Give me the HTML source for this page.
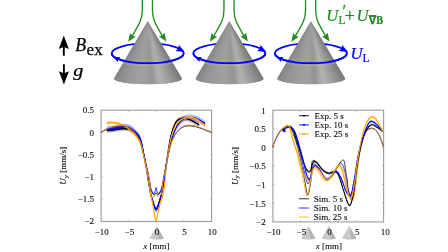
<!DOCTYPE html>
<html><head><meta charset="utf-8"><title>Figure</title>
<style>
html,body{margin:0;padding:0;background:#fff;}
body{width:448px;height:252px;overflow:hidden;}
svg{display:block;font-family:"Liberation Serif","Times New Roman",serif;}
.t{font-size:9px;fill:#0a0a0a;stroke:#0a0a0a;stroke-width:0.1px;}
.i{font-style:italic;}
</style></head><body>
<svg width="448" height="252" viewBox="0 0 448 252">
<defs>
<linearGradient id="cg" x1="0" y1="0" x2="1" y2="0">
<stop offset="0" stop-color="#808080"/>
<stop offset="0.12" stop-color="#8e8e8e"/>
<stop offset="0.45" stop-color="#9c9c9c"/>
<stop offset="0.68" stop-color="#b4b4b4"/>
<stop offset="0.8" stop-color="#a0a0a0"/>
<stop offset="1" stop-color="#7e7e7e"/>
</linearGradient>
<clipPath id="cc"><path d="M-0.3,21.2 L-34,78.6 A34,5.4 0 0 0 34,78.6 Z"/></clipPath>
<filter id="bl" x="-10%" y="-10%" width="120%" height="120%"><feGaussianBlur stdDeviation="1"/></filter>
<g id="cone">
<path d="M-34.3,78.6 A34.3,5.9 0 0 0 34.3,78.6 Z" fill="#c4c4c4"/>
<path d="M-0.3,21.2 L-34,78.6 A34,5.4 0 0 0 34,78.6 Z" fill="#999"/>
<g clip-path="url(#cc)"><g filter="url(#bl)">
<path d="M-0.3,18 L-40,86 L40,86 Z" fill="#999"/>
<path d="M-0.3,18 L-40,86 L-33,86 Z" fill="#848484"/>
<path d="M-0.3,18 L40,86 L33,86 Z" fill="#7a7a7a"/>
<path d="M-0.3,21.2L-38.04,85.49L-37.77,86.22Z" fill="#848484" stroke="#848484" stroke-width="0.4"/>
<path d="M-0.3,21.2L-37.77,86.22L-36.94,86.94Z" fill="#858585" stroke="#858585" stroke-width="0.4"/>
<path d="M-0.3,21.2L-36.94,86.94L-35.57,87.63Z" fill="#878787" stroke="#878787" stroke-width="0.4"/>
<path d="M-0.3,21.2L-35.57,87.63L-33.68,88.30Z" fill="#8a8a8a" stroke="#8a8a8a" stroke-width="0.4"/>
<path d="M-0.3,21.2L-33.68,88.30L-31.30,88.92Z" fill="#8d8d8d" stroke="#8d8d8d" stroke-width="0.4"/>
<path d="M-0.3,21.2L-31.30,88.92L-28.47,89.50Z" fill="#919191" stroke="#919191" stroke-width="0.4"/>
<path d="M-0.3,21.2L-28.47,89.50L-25.22,90.01Z" fill="#959595" stroke="#959595" stroke-width="0.4"/>
<path d="M-0.3,21.2L-25.22,90.01L-21.60,90.47Z" fill="#979797" stroke="#979797" stroke-width="0.4"/>
<path d="M-0.3,21.2L-21.60,90.47L-17.66,90.84Z" fill="#9a9a9a" stroke="#9a9a9a" stroke-width="0.4"/>
<path d="M-0.3,21.2L-17.66,90.84L-13.47,91.14Z" fill="#9d9d9d" stroke="#9d9d9d" stroke-width="0.4"/>
<path d="M-0.3,21.2L-13.47,91.14L-9.08,91.36Z" fill="#a0a0a0" stroke="#a0a0a0" stroke-width="0.4"/>
<path d="M-0.3,21.2L-9.08,91.36L-4.55,91.49Z" fill="#a0a0a0" stroke="#a0a0a0" stroke-width="0.4"/>
<path d="M-0.3,21.2L-4.55,91.49L0.04,91.54Z" fill="#9e9e9e" stroke="#9e9e9e" stroke-width="0.4"/>
<path d="M-0.3,21.2L0.04,91.54L4.63,91.49Z" fill="#979797" stroke="#979797" stroke-width="0.4"/>
<path d="M-0.3,21.2L4.63,91.49L9.15,91.36Z" fill="#979797" stroke="#979797" stroke-width="0.4"/>
<path d="M-0.3,21.2L9.15,91.36L13.54,91.14Z" fill="#ababab" stroke="#ababab" stroke-width="0.4"/>
<path d="M-0.3,21.2L13.54,91.14L17.73,90.84Z" fill="#b2b2b2" stroke="#b2b2b2" stroke-width="0.4"/>
<path d="M-0.3,21.2L17.73,90.84L21.67,90.47Z" fill="#a9a9a9" stroke="#a9a9a9" stroke-width="0.4"/>
<path d="M-0.3,21.2L21.67,90.47L25.29,90.01Z" fill="#a0a0a0" stroke="#a0a0a0" stroke-width="0.4"/>
<path d="M-0.3,21.2L25.29,90.01L28.54,89.50Z" fill="#979797" stroke="#979797" stroke-width="0.4"/>
<path d="M-0.3,21.2L28.54,89.50L31.38,88.92Z" fill="#8f8f8f" stroke="#8f8f8f" stroke-width="0.4"/>
<path d="M-0.3,21.2L31.38,88.92L33.75,88.30Z" fill="#898989" stroke="#898989" stroke-width="0.4"/>
<path d="M-0.3,21.2L33.75,88.30L35.64,87.63Z" fill="#838383" stroke="#838383" stroke-width="0.4"/>
<path d="M-0.3,21.2L35.64,87.63L37.01,86.94Z" fill="#7f7f7f" stroke="#7f7f7f" stroke-width="0.4"/>
<path d="M-0.3,21.2L37.01,86.94L37.84,86.22Z" fill="#7c7c7c" stroke="#7c7c7c" stroke-width="0.4"/>
<path d="M-0.3,21.2L37.84,86.22L38.12,85.49Z" fill="#7a7a7a" stroke="#7a7a7a" stroke-width="0.4"/>
</g></g></g>
<g id="ringb" fill="none" stroke="#0000ff" stroke-width="1.75">
<ellipse cx="-0.3" cy="53.3" rx="36" ry="9.9"/>
</g>
<g id="ringf" fill="none" stroke="#0000ff" stroke-width="1.75">
<path d="M-36.3,53.3 A36,9.9 0 0 0 35.7,53.3"/>
</g>
<g id="ringheads" fill="#0000ff" stroke="none" transform="translate(0,0.4)">
<path d="M36.7,51.6 L31,44.7 L30,48.5 L27.4,50.5 Z"/>
<path d="M-34.8,56.7 L-27.8,56.5 L-29.7,58.6 L-30.3,61.6 Z"/>
</g>
<g id="flow" fill="none" stroke="#228b22" stroke-width="1.35">
<path d="M-5.65,0 L-5.65,10 C-5.65,19 -8.1,23 -15.8,36"/>
<path d="M4.45,0 L4.45,10 C4.45,19 6.9,23 14.3,35.8"/>
</g>
<g id="flowheads" fill="#228b22">
<path d="M-19.8,41.7 L-18,33 L-15.6,35.7 L-12.4,36.8 Z"/>
<path d="M18.3,41.5 L16.5,32.8 L14.1,35.5 L10.9,36.6 Z"/>
</g>
</defs>
<rect width="448" height="252" fill="#fff"/>

<g transform="translate(148.0,0)"><use href="#flow"/><use href="#flowheads"/><use href="#ringb"/><use href="#cone"/><g clip-path="url(#cc)" fill="none" stroke="#d8d28a" stroke-width="0.45"><path d="M-36.3,50.9 A36,9.9 0 0 0 35.7,50.9" stroke-opacity="0.35"/><path d="M-36.3,55.8 A36,9.9 0 0 0 35.7,55.8" stroke-opacity="0.7"/></g><use href="#ringf"/><use href="#ringheads"/></g>
<g transform="translate(229.6,0)"><use href="#flow"/><use href="#flowheads"/><use href="#ringb"/><use href="#cone"/><g clip-path="url(#cc)" fill="none" stroke="#d8d28a" stroke-width="0.45"><path d="M-36.3,50.9 A36,9.9 0 0 0 35.7,50.9" stroke-opacity="0.35"/><path d="M-36.3,55.8 A36,9.9 0 0 0 35.7,55.8" stroke-opacity="0.7"/></g><use href="#ringf"/><use href="#ringheads"/></g>
<g transform="translate(311.2,0)"><use href="#flow"/><use href="#flowheads"/><use href="#ringb"/><use href="#cone"/><g clip-path="url(#cc)" fill="none" stroke="#d8d28a" stroke-width="0.45"><path d="M-36.3,50.9 A36,9.9 0 0 0 35.7,50.9" stroke-opacity="0.35"/><path d="M-36.3,55.8 A36,9.9 0 0 0 35.7,55.8" stroke-opacity="0.7"/></g><use href="#ringf"/><use href="#ringheads"/></g>
<g fill="#000">
<path d="M63.8,35.6 L68.8,49 L64.75,47.2 L64.75,55.8 L62.85,55.8 L62.85,47.2 L58.8,49 Z"/>
<path d="M63.9,84.5 L68.9,71.2 L64.85,73 L64.85,64.3 L62.95,64.3 L62.95,73 L58.9,71.2 Z"/>
</g>
<text x="75.2" y="51" font-size="17.8" class="i" fill="#000" stroke="#000" stroke-width="0.25">B</text>
<text x="86.6" y="55.2" font-size="17" fill="#000" stroke="#000" stroke-width="0.25">ex</text>
<text transform="translate(73.3,76.1) scale(1.15,1)" font-size="17.6" class="i" fill="#000" stroke="#000" stroke-width="0.25">g</text>

<g fill="#228b22" stroke="#228b22" stroke-width="0.2">
<text x="326.2" y="20.8" font-size="16.6" class="i">U</text>
<text x="338.4" y="23.9" font-size="11.5">L</text>
<text x="341.2" y="17.6" font-size="18" class="i">′</text>
<text x="344.6" y="21.6" font-size="18.5">+</text>
<text x="356.4" y="20.8" font-size="16.6" class="i">U</text>
<text x="369.2" y="24.4" font-size="11.8" font-weight="bold" textLength="13.8" lengthAdjust="spacingAndGlyphs">∇B</text>
</g>
<g fill="#0000ff" stroke="#0000ff" stroke-width="0.2">
<text x="350.6" y="58.6" font-size="16.6" class="i">U</text>
<text x="362.6" y="62" font-size="11.5">L</text>
</g>

<rect x="101.1" y="110.2" width="110.5" height="111.3" fill="none" stroke="#9b9b9b" stroke-width="1.1"/>
<path d="M128.7,221.5v-1.6M128.7,110.2v1.6M156.3,221.5v-1.6M156.3,110.2v1.6M183.9,221.5v-1.6M183.9,110.2v1.6M101.1,132.4h1.6M211.6,132.4h-1.6M101.1,154.6h1.6M211.6,154.6h-1.6M101.1,176.8h1.6M211.6,176.8h-1.6M101.1,199.0h1.6M211.6,199.0h-1.6" stroke="#9b9b9b" stroke-width="0.7" fill="none"/>
<polygon points="107.0,128.0 108.2,128.0 109.4,127.9 110.6,127.8 111.8,127.7 113.0,127.5 114.2,127.3 115.4,127.1 116.6,126.9 117.8,126.7 119.0,126.6 120.2,126.4 121.4,126.3 122.6,126.2 123.8,126.2 125.0,126.2 126.2,126.3 127.4,126.5 128.6,126.8 129.8,127.1 130.9,127.6 132.0,128.1 133.0,128.7 134.0,129.5 134.9,130.3 135.8,131.1 136.6,132.1 137.3,133.0 138.0,134.1 138.6,135.1 139.1,136.2 139.6,137.3 140.0,138.4 140.4,139.6 140.8,140.7 141.1,141.9 141.4,143.1 141.7,144.3 142.0,145.5 142.3,146.7 142.5,147.9 142.8,149.0 143.1,150.2 143.4,151.4 143.6,152.5 143.9,153.7 144.2,154.9 144.4,156.1 144.7,157.2 144.9,158.4 145.2,159.6 145.4,160.8 145.6,162.0 145.9,163.1 146.1,164.3 146.3,165.6 146.5,166.8 146.7,168.0 146.9,169.2 147.1,170.5 147.3,171.7 147.5,173.0 147.7,174.2 147.8,175.4 148.0,176.7 148.2,177.9 148.4,179.1 148.6,180.4 148.8,181.6 149.0,182.8 149.2,184.0 149.4,185.2 149.6,186.3 149.8,187.5 150.0,188.6 150.3,189.8 150.5,190.9 150.8,191.9 151.0,193.0 151.3,194.0 151.6,195.1 151.9,196.1 152.2,197.1 152.6,198.2 153.0,199.4 153.4,200.7 153.8,202.0 154.3,203.5 154.8,205.0 155.3,206.2 155.9,206.8 156.5,206.7 157.0,205.9 157.6,204.6 158.1,203.1 158.6,201.7 159.0,200.3 159.4,199.1 159.8,197.9 160.1,196.8 160.4,195.8 160.7,194.8 161.0,193.7 161.2,192.7 161.5,191.6 161.7,190.5 162.0,189.4 162.2,188.3 162.4,187.2 162.7,186.0 162.9,184.9 163.1,183.7 163.3,182.5 163.5,181.3 163.7,180.1 163.9,178.9 164.1,177.6 164.3,176.4 164.5,175.1 164.7,173.9 164.8,172.7 165.0,171.4 165.2,170.2 165.4,168.9 165.5,167.7 165.7,166.4 165.9,165.2 166.0,164.0 166.2,162.7 166.3,161.5 166.5,160.3 166.7,159.1 166.8,157.9 167.0,156.7 167.1,155.5 167.3,154.3 167.5,153.1 167.6,151.9 167.8,150.7 168.0,149.5 168.1,148.3 168.3,147.1 168.5,145.9 168.7,144.8 168.9,143.6 169.1,142.4 169.3,141.3 169.5,140.1 169.7,138.9 170.0,137.7 170.2,136.6 170.5,135.4 170.7,134.2 171.0,133.1 171.3,131.9 171.6,130.8 171.9,129.6 172.3,128.4 172.6,127.3 173.0,126.1 173.5,125.0 173.9,123.8 174.4,122.7 174.9,121.5 175.5,120.5 176.2,119.4 177.0,118.5 177.8,117.7 178.8,117.1 180.0,116.5 181.1,116.2 182.3,115.9 183.6,115.9 184.8,115.9 186.0,116.1 187.2,116.4 188.3,116.7 189.4,117.1 190.6,117.6 191.6,118.1 192.7,118.7 193.8,119.3 194.8,119.9 195.9,120.5 196.9,121.1 198.0,121.7 199.0,122.3 199.0,127.1 198.0,126.5 196.9,125.9 195.9,125.3 194.8,124.7 193.8,124.1 192.7,123.5 191.6,122.9 190.6,122.4 189.4,121.9 188.3,121.5 187.2,121.2 186.0,120.9 184.8,120.7 183.6,120.7 182.3,120.7 181.1,121.0 180.0,121.3 178.8,121.9 177.8,122.5 177.0,123.3 176.2,124.2 175.5,125.3 174.9,126.3 174.4,127.5 173.9,128.6 173.5,129.8 173.0,130.9 172.6,132.1 172.3,133.2 171.9,134.4 171.6,135.6 171.3,136.7 171.0,137.9 170.7,139.0 170.5,140.2 170.2,141.4 170.0,142.5 169.7,143.7 169.5,144.9 169.3,146.1 169.1,147.2 168.9,148.4 168.7,149.6 168.5,150.7 168.3,151.9 168.1,153.1 168.0,154.3 167.8,155.5 167.6,156.7 167.5,157.9 167.3,159.1 167.1,160.3 167.0,161.5 166.8,162.7 166.7,163.9 166.5,165.1 166.3,166.3 166.2,167.5 166.0,168.8 165.9,170.0 165.7,171.2 165.5,172.5 165.4,173.7 165.2,175.0 165.0,176.2 164.8,177.5 164.7,178.7 164.5,179.9 164.3,181.2 164.1,182.4 163.9,183.7 163.7,184.9 163.5,186.1 163.3,187.3 163.1,188.5 162.9,189.7 162.7,190.8 162.4,192.0 162.2,193.1 162.0,194.2 161.7,195.3 161.5,196.4 161.2,197.5 161.0,198.5 160.7,199.6 160.4,200.6 160.1,201.6 159.8,202.7 159.4,203.9 159.0,205.1 158.6,206.5 158.1,207.9 157.6,209.4 157.0,210.7 156.5,211.5 155.9,211.6 155.3,211.0 154.8,209.8 154.3,208.3 153.8,206.8 153.4,205.5 153.0,204.2 152.6,203.0 152.2,201.9 151.9,200.9 151.6,199.9 151.3,198.8 151.0,197.8 150.8,196.7 150.5,195.7 150.3,194.6 150.0,193.4 149.8,192.3 149.6,191.1 149.4,190.0 149.2,188.8 149.0,187.6 148.8,186.4 148.6,185.2 148.4,183.9 148.2,182.7 148.0,181.5 147.8,180.2 147.7,179.0 147.5,177.8 147.3,176.5 147.1,175.3 146.9,174.0 146.7,172.8 146.5,171.6 146.3,170.4 146.1,169.1 145.9,167.9 145.6,166.8 145.4,165.6 145.2,164.4 144.9,163.2 144.7,162.0 144.4,160.9 144.2,159.7 143.9,158.5 143.6,157.3 143.4,156.2 143.1,155.0 142.8,153.8 142.5,152.7 142.3,151.5 142.0,150.3 141.7,149.1 141.4,147.9 141.1,146.7 140.8,145.5 140.4,144.4 140.0,143.2 139.6,142.1 139.1,141.0 138.6,139.9 138.0,138.9 137.3,137.8 136.6,136.9 135.8,135.9 134.9,135.1 134.0,134.3 133.0,133.5 132.0,132.9 130.9,132.4 129.8,131.9 128.6,131.6 127.4,131.3 126.2,131.1 125.0,131.0 123.8,131.0 122.6,131.0 121.4,131.1 120.2,131.2 119.0,131.4 117.8,131.5 116.6,131.7 115.4,131.9 114.2,132.1 113.0,132.3 111.8,132.5 110.6,132.6 109.4,132.7 108.2,132.8 107.0,132.8" fill="#000" fill-opacity="0.22"/>
<polygon points="107.0,126.0 108.2,125.9 109.5,125.8 110.7,125.7 111.9,125.6 113.1,125.4 114.2,125.3 115.4,125.1 116.6,125.0 117.8,124.8 119.0,124.7 120.2,124.5 121.4,124.3 122.6,124.1 123.9,123.9 125.1,123.8 126.3,123.8 127.5,123.9 128.6,124.2 129.7,124.7 130.7,125.3 131.8,126.1 132.8,126.8 133.8,127.6 134.7,128.4 135.6,129.2 136.5,130.1 137.3,131.0 138.1,131.9 138.8,132.8 139.4,133.8 139.9,134.9 140.4,136.0 140.8,137.1 141.2,138.2 141.5,139.4 141.8,140.6 142.1,141.8 142.3,143.0 142.5,144.3 142.7,145.5 143.0,146.7 143.2,147.9 143.4,149.1 143.6,150.3 143.8,151.5 144.1,152.7 144.3,153.9 144.6,155.1 144.8,156.2 145.0,157.4 145.3,158.6 145.5,159.8 145.7,161.0 146.0,162.2 146.2,163.3 146.4,164.6 146.6,165.8 146.8,167.0 147.0,168.2 147.2,169.5 147.4,170.7 147.6,171.9 147.8,173.2 148.0,174.4 148.2,175.7 148.3,176.9 148.5,178.2 148.7,179.4 148.9,180.6 149.1,181.8 149.3,183.0 149.5,184.2 149.7,185.4 149.9,186.6 150.1,187.7 150.3,188.9 150.6,190.0 150.8,191.1 151.1,192.1 151.3,193.2 151.6,194.2 151.9,195.2 152.2,196.3 152.6,197.4 152.9,198.5 153.3,199.8 153.7,201.1 154.2,202.6 154.7,204.1 155.2,205.5 155.7,206.4 156.2,206.6 156.8,206.0 157.3,204.9 157.8,203.5 158.3,202.0 158.8,200.5 159.2,199.2 159.5,198.0 159.9,196.9 160.2,195.8 160.5,194.8 160.8,193.8 161.1,192.7 161.3,191.7 161.6,190.6 161.8,189.5 162.1,188.4 162.3,187.3 162.6,186.1 162.8,185.0 163.0,183.8 163.2,182.6 163.5,181.4 163.7,180.2 163.9,179.0 164.1,177.7 164.3,176.5 164.5,175.3 164.7,174.0 164.8,172.8 165.0,171.5 165.2,170.3 165.4,169.0 165.6,167.8 165.8,166.5 166.0,165.3 166.1,164.0 166.3,162.8 166.5,161.6 166.7,160.4 166.9,159.2 167.1,158.0 167.3,156.7 167.5,155.5 167.7,154.4 167.9,153.2 168.1,152.0 168.3,150.8 168.5,149.6 168.8,148.4 169.0,147.3 169.3,146.1 169.5,144.9 169.8,143.7 170.1,142.6 170.3,141.4 170.6,140.2 170.9,139.1 171.2,137.9 171.6,136.8 171.9,135.6 172.3,134.4 172.6,133.3 173.0,132.1 173.4,131.0 173.8,129.9 174.3,128.7 174.8,127.6 175.3,126.5 175.8,125.4 176.4,124.3 176.9,123.3 177.6,122.2 178.2,121.2 179.0,120.2 179.7,119.3 180.6,118.4 181.5,117.6 182.4,116.8 183.5,116.1 184.5,115.6 185.7,115.1 186.8,114.8 188.0,114.6 189.2,114.5 190.5,114.5 191.7,114.6 192.9,114.7 194.1,115.0 195.2,115.3 196.4,115.7 197.5,116.2 198.6,116.7 199.6,117.3 200.7,117.9 201.7,118.5 202.8,119.1 203.8,119.7 204.9,120.3 204.9,126.3 203.8,125.7 202.8,125.1 201.7,124.5 200.7,123.9 199.6,123.3 198.6,122.7 197.5,122.2 196.4,121.7 195.2,121.3 194.1,121.0 192.9,120.7 191.7,120.6 190.5,120.5 189.2,120.5 188.0,120.6 186.8,120.8 185.7,121.1 184.5,121.6 183.5,122.1 182.4,122.8 181.5,123.6 180.6,124.4 179.7,125.3 179.0,126.2 178.2,127.2 177.6,128.2 176.9,129.3 176.4,130.3 175.8,131.4 175.3,132.5 174.8,133.6 174.3,134.7 173.8,135.9 173.4,137.0 173.0,138.1 172.6,139.3 172.3,140.4 171.9,141.6 171.6,142.8 171.2,143.9 170.9,145.1 170.6,146.2 170.3,147.4 170.1,148.6 169.8,149.7 169.5,150.9 169.3,152.1 169.0,153.3 168.8,154.4 168.5,155.6 168.3,156.8 168.1,158.0 167.9,159.2 167.7,160.4 167.5,161.5 167.3,162.7 167.1,164.0 166.9,165.2 166.7,166.4 166.5,167.6 166.3,168.8 166.1,170.0 166.0,171.3 165.8,172.5 165.6,173.8 165.4,175.0 165.2,176.3 165.0,177.5 164.8,178.8 164.7,180.0 164.5,181.3 164.3,182.5 164.1,183.7 163.9,185.0 163.7,186.2 163.5,187.4 163.2,188.6 163.0,189.8 162.8,191.0 162.6,192.1 162.3,193.3 162.1,194.4 161.8,195.5 161.6,196.6 161.3,197.7 161.1,198.7 160.8,199.8 160.5,200.8 160.2,201.8 159.9,202.9 159.5,204.0 159.2,205.2 158.8,206.5 158.3,208.0 157.8,209.5 157.3,210.9 156.8,212.0 156.2,212.6 155.7,212.4 155.2,211.5 154.7,210.1 154.2,208.6 153.7,207.1 153.3,205.8 152.9,204.5 152.6,203.4 152.2,202.3 151.9,201.2 151.6,200.2 151.3,199.2 151.1,198.1 150.8,197.1 150.6,196.0 150.3,194.9 150.1,193.7 149.9,192.6 149.7,191.4 149.5,190.2 149.3,189.0 149.1,187.8 148.9,186.6 148.7,185.4 148.5,184.2 148.3,182.9 148.2,181.7 148.0,180.4 147.8,179.2 147.6,177.9 147.4,176.7 147.2,175.5 147.0,174.2 146.8,173.0 146.6,171.8 146.4,170.6 146.2,169.3 146.0,168.2 145.7,167.0 145.5,165.8 145.3,164.6 145.0,163.4 144.8,162.2 144.6,161.1 144.3,159.9 144.1,158.7 143.8,157.5 143.6,156.3 143.4,155.1 143.2,153.9 143.0,152.7 142.7,151.5 142.5,150.3 142.3,149.0 142.1,147.8 141.8,146.6 141.5,145.4 141.2,144.2 140.8,143.1 140.4,142.0 139.9,140.9 139.4,139.8 138.8,138.8 138.1,137.9 137.3,137.0 136.5,136.1 135.6,135.2 134.7,134.4 133.8,133.6 132.8,132.8 131.8,132.1 130.7,131.3 129.7,130.7 128.6,130.2 127.5,129.9 126.3,129.8 125.1,129.8 123.9,129.9 122.6,130.1 121.4,130.3 120.2,130.5 119.0,130.7 117.8,130.8 116.6,131.0 115.4,131.1 114.2,131.3 113.1,131.4 111.9,131.6 110.7,131.7 109.5,131.8 108.2,131.9 107.0,132.0" fill="#0000ff" fill-opacity="0.28"/>
<polygon points="107.0,121.5 108.2,121.1 109.4,120.8 110.6,120.7 111.8,120.7 113.0,120.8 114.2,120.9 115.3,121.1 116.5,121.4 117.7,121.7 118.9,122.0 120.1,122.3 121.2,122.7 122.4,123.1 123.5,123.6 124.5,124.2 125.6,124.8 126.5,125.5 127.5,126.2 128.4,126.9 129.4,127.7 130.3,128.5 131.2,129.4 132.1,130.2 133.0,131.0 133.9,131.8 134.8,132.7 135.6,133.6 136.4,134.5 137.1,135.4 137.8,136.4 138.4,137.4 139.0,138.5 139.5,139.6 140.0,140.7 140.4,141.8 140.8,143.0 141.1,144.1 141.5,145.3 141.8,146.5 142.1,147.7 142.4,148.9 142.7,150.0 143.0,151.2 143.3,152.4 143.6,153.5 143.8,154.7 144.1,155.9 144.3,157.1 144.6,158.2 144.8,159.4 145.0,160.6 145.3,161.8 145.5,163.0 145.7,164.2 145.9,165.4 146.2,166.6 146.4,167.8 146.6,169.0 146.8,170.2 147.0,171.5 147.2,172.7 147.5,173.9 147.7,175.2 147.9,176.4 148.1,177.6 148.3,178.8 148.5,180.1 148.7,181.3 148.9,182.5 149.1,183.7 149.4,184.9 149.6,186.1 149.8,187.2 150.0,188.4 150.2,189.5 150.4,190.7 150.6,191.8 150.8,192.9 151.0,193.9 151.3,195.0 151.5,196.0 151.7,197.1 151.9,198.1 152.1,199.2 152.4,200.3 152.6,201.4 152.8,202.5 153.1,203.8 153.3,205.0 153.5,206.4 153.8,207.8 154.0,209.3 154.3,211.0 154.5,212.6 154.8,214.2 155.1,215.6 155.3,216.9 155.6,217.8 155.8,218.5 156.1,218.7 156.4,218.5 156.6,217.8 156.9,216.8 157.1,215.5 157.4,214.1 157.7,212.5 158.0,210.9 158.3,209.3 158.6,207.8 158.9,206.3 159.3,205.0 159.6,203.8 160.0,202.6 160.3,201.4 160.7,200.3 161.0,199.3 161.4,198.2 161.7,197.2 162.0,196.2 162.3,195.2 162.6,194.2 162.9,193.1 163.1,192.0 163.4,190.9 163.6,189.8 163.8,188.7 164.0,187.5 164.2,186.4 164.3,185.2 164.5,184.0 164.6,182.8 164.7,181.6 164.9,180.4 165.0,179.1 165.1,177.9 165.2,176.6 165.3,175.4 165.4,174.1 165.5,172.9 165.6,171.6 165.7,170.4 165.8,169.1 165.9,167.9 166.1,166.6 166.2,165.4 166.3,164.2 166.4,162.9 166.6,161.7 166.7,160.5 166.8,159.3 167.0,158.1 167.2,156.9 167.3,155.7 167.5,154.5 167.7,153.3 167.9,152.1 168.1,150.9 168.3,149.7 168.5,148.6 168.7,147.4 168.9,146.2 169.1,145.0 169.4,143.9 169.6,142.7 169.8,141.5 170.1,140.3 170.4,139.2 170.6,138.0 170.9,136.8 171.2,135.7 171.5,134.5 171.9,133.3 172.2,132.2 172.6,131.0 173.0,129.9 173.4,128.7 173.9,127.6 174.4,126.5 174.9,125.4 175.5,124.3 176.1,123.3 176.7,122.3 177.5,121.3 178.3,120.4 179.1,119.5 180.0,118.7 181.0,118.0 182.0,117.4 183.1,116.8 184.3,116.4 185.4,116.1 186.6,115.9 187.8,115.8 189.1,115.8 190.3,115.8 191.5,115.9 192.7,116.1 193.9,116.3 195.0,116.7 196.1,117.2 197.2,117.7 198.2,118.4 199.2,119.1 200.2,119.8 201.1,120.6 202.1,121.4 203.0,122.2 204.0,122.9 204.9,123.6 204.9,127.2 204.0,126.5 203.0,125.8 202.1,125.0 201.1,124.2 200.2,123.4 199.2,122.7 198.2,122.0 197.2,121.3 196.1,120.8 195.0,120.3 193.9,119.9 192.7,119.7 191.5,119.5 190.3,119.4 189.1,119.4 187.8,119.4 186.6,119.5 185.4,119.7 184.3,120.0 183.1,120.4 182.0,121.0 181.0,121.6 180.0,122.3 179.1,123.1 178.3,124.0 177.5,124.9 176.7,125.9 176.1,126.9 175.5,127.9 174.9,129.0 174.4,130.1 173.9,131.2 173.4,132.3 173.0,133.5 172.6,134.6 172.2,135.8 171.9,136.9 171.5,138.1 171.2,139.3 170.9,140.4 170.6,141.6 170.4,142.8 170.1,143.9 169.8,145.1 169.6,146.3 169.4,147.5 169.1,148.6 168.9,149.8 168.7,151.0 168.5,152.2 168.3,153.3 168.1,154.5 167.9,155.7 167.7,156.9 167.5,158.1 167.3,159.3 167.2,160.5 167.0,161.7 166.8,162.9 166.7,164.1 166.6,165.3 166.4,166.5 166.3,167.8 166.2,169.0 166.1,170.2 165.9,171.5 165.8,172.7 165.7,174.0 165.6,175.2 165.5,176.5 165.4,177.7 165.3,179.0 165.2,180.2 165.1,181.5 165.0,182.7 164.9,184.0 164.7,185.2 164.6,186.4 164.5,187.6 164.3,188.8 164.2,190.0 164.0,191.1 163.8,192.3 163.6,193.4 163.4,194.5 163.1,195.6 162.9,196.7 162.6,197.8 162.3,198.8 162.0,199.8 161.7,200.8 161.4,201.8 161.0,202.9 160.7,203.9 160.3,205.0 160.0,206.2 159.6,207.4 159.3,208.6 158.9,209.9 158.6,211.4 158.3,212.9 158.0,214.5 157.7,216.1 157.4,217.7 157.1,219.1 156.9,220.4 156.6,221.4 156.4,222.1 156.1,222.3 155.8,222.1 155.6,221.4 155.3,220.5 155.1,219.2 154.8,217.8 154.5,216.2 154.3,214.6 154.0,212.9 153.8,211.4 153.5,210.0 153.3,208.6 153.1,207.4 152.8,206.1 152.6,205.0 152.4,203.9 152.1,202.8 151.9,201.7 151.7,200.7 151.5,199.6 151.3,198.6 151.0,197.5 150.8,196.5 150.6,195.4 150.4,194.3 150.2,193.1 150.0,192.0 149.8,190.8 149.6,189.7 149.4,188.5 149.1,187.3 148.9,186.1 148.7,184.9 148.5,183.7 148.3,182.4 148.1,181.2 147.9,180.0 147.7,178.8 147.5,177.5 147.2,176.3 147.0,175.1 146.8,173.8 146.6,172.6 146.4,171.4 146.2,170.2 145.9,169.0 145.7,167.8 145.5,166.6 145.3,165.4 145.0,164.2 144.8,163.0 144.6,161.8 144.3,160.7 144.1,159.5 143.8,158.3 143.6,157.1 143.3,156.0 143.0,154.8 142.7,153.6 142.4,152.5 142.1,151.3 141.8,150.1 141.5,148.9 141.1,147.7 140.8,146.6 140.4,145.4 140.0,144.3 139.5,143.2 139.0,142.1 138.4,141.0 137.8,140.0 137.1,139.0 136.4,138.1 135.6,137.2 134.8,136.3 133.9,135.4 133.0,134.6 132.1,133.8 131.2,133.0 130.3,132.1 129.4,131.3 128.4,130.5 127.5,129.8 126.5,129.1 125.6,128.4 124.5,127.8 123.5,127.2 122.4,126.7 121.2,126.3 120.1,125.9 118.9,125.6 117.7,125.3 116.5,125.0 115.3,124.7 114.2,124.5 113.0,124.4 111.8,124.3 110.6,124.3 109.4,124.4 108.2,124.7 107.0,125.1" fill="#ffa500" fill-opacity="0.3"/>
<polyline points="101.2,132.2 102.2,131.6 103.3,131.0 104.4,130.4 105.4,129.9 106.5,129.4 107.7,128.9 108.8,128.5 109.9,128.1 111.1,127.7 112.2,127.4 113.4,127.1 114.6,126.8 115.8,126.6 117.0,126.4 118.2,126.3 119.4,126.2 120.6,126.1 121.8,126.0 123.0,126.0 124.2,126.1 125.4,126.4 126.6,126.7 127.7,127.1 128.8,127.7 129.9,128.3 130.8,129.0 131.8,129.8 132.6,130.6 133.5,131.5 134.3,132.4 135.1,133.3 135.9,134.2 136.7,135.2 137.4,136.1 138.2,137.1 138.8,138.1 139.5,139.1 140.0,140.1 140.5,141.2 141.0,142.3 141.4,143.5 141.7,144.6 142.0,145.8 142.3,147.0 142.6,148.2 142.9,149.4 143.1,150.6 143.4,151.8 143.6,153.0 143.9,154.2 144.1,155.4 144.4,156.5 144.6,157.7 144.9,158.9 145.1,160.0 145.4,161.2 145.7,162.4 145.9,163.6 146.2,164.7 146.5,165.9 146.7,167.1 147.0,168.3 147.3,169.5 147.5,170.7 147.8,171.9 148.1,173.1 148.3,174.3 148.6,175.5 148.8,176.7 149.1,177.9 149.3,179.1 149.5,180.3 149.7,181.5 149.9,182.7 150.1,183.8 150.3,185.0 150.4,186.1 150.5,187.2 150.7,188.3 150.9,189.4 151.2,190.5 151.7,191.7 152.3,193.0 153.1,194.3 154.1,195.0 154.9,194.4 155.7,193.2 156.5,193.2 157.3,194.4 158.1,195.0 159.1,194.3 159.9,193.0 160.6,191.7 161.0,190.6 161.4,189.4 161.7,188.3 161.9,187.3 162.1,186.2 162.3,185.1 162.5,183.9 162.7,182.8 162.9,181.6 163.1,180.4 163.3,179.3 163.5,178.1 163.8,176.8 164.0,175.6 164.2,174.4 164.5,173.2 164.7,172.0 165.0,170.8 165.2,169.6 165.4,168.3 165.6,167.2 165.9,166.0 166.1,164.8 166.3,163.6 166.5,162.4 166.8,161.2 167.0,160.0 167.2,158.9 167.5,157.7 167.7,156.5 167.9,155.3 168.2,154.1 168.4,153.0 168.6,151.8 168.9,150.6 169.2,149.4 169.4,148.2 169.7,147.0 170.0,145.9 170.4,144.7 170.7,143.5 171.1,142.4 171.5,141.2 172.0,140.1 172.5,139.0 173.0,138.0 173.6,136.9 174.2,135.9 174.9,134.9 175.6,133.9 176.3,132.9 177.1,132.0 177.9,131.1 178.8,130.2 179.7,129.3 180.6,128.5 181.6,127.8 182.6,127.2 183.7,126.7 184.8,126.3 186.0,126.1 187.2,125.9 188.4,125.8 189.7,125.8 190.9,125.9 192.1,126.0 193.3,126.2 194.5,126.4 195.6,126.7 196.8,127.0 198.0,127.3 199.1,127.7 200.2,128.1 201.4,128.5 202.5,129.0 203.6,129.4 204.7,129.9 205.9,130.3 207.0,130.8 208.1,131.2 209.3,131.6 210.4,131.9 211.6,132.2" fill="none" stroke="#000000" stroke-width="0.8" stroke-linejoin="round" stroke-linecap="round"/>
<polyline points="107.0,130.4 108.2,130.4 109.4,130.3 110.6,130.2 111.8,130.1 113.0,129.9 114.2,129.7 115.4,129.5 116.6,129.3 117.8,129.1 119.0,129.0 120.2,128.8 121.4,128.7 122.6,128.6 123.8,128.6 125.0,128.6 126.2,128.7 127.4,128.9 128.6,129.2 129.8,129.5 130.9,130.0 132.0,130.5 133.0,131.1 134.0,131.9 134.9,132.7 135.8,133.5 136.6,134.5 137.3,135.4 138.0,136.5 138.6,137.5 139.1,138.6 139.6,139.7 140.0,140.8 140.4,142.0 140.8,143.1 141.1,144.3 141.4,145.5 141.7,146.7 142.0,147.9 142.3,149.1 142.5,150.3 142.8,151.4 143.1,152.6 143.4,153.8 143.6,154.9 143.9,156.1 144.2,157.3 144.4,158.5 144.7,159.6 144.9,160.8 145.2,162.0 145.4,163.2 145.6,164.4 145.9,165.5 146.1,166.7 146.3,168.0 146.5,169.2 146.7,170.4 146.9,171.6 147.1,172.9 147.3,174.1 147.5,175.4 147.7,176.6 147.8,177.8 148.0,179.1 148.2,180.3 148.4,181.5 148.6,182.8 148.8,184.0 149.0,185.2 149.2,186.4 149.4,187.6 149.6,188.7 149.8,189.9 150.0,191.0 150.3,192.2 150.5,193.3 150.8,194.3 151.0,195.4 151.3,196.4 151.6,197.5 151.9,198.5 152.2,199.5 152.6,200.6 153.0,201.8 153.4,203.1 153.8,204.4 154.3,205.9 154.8,207.4 155.3,208.6 155.9,209.2 156.5,209.1 157.0,208.3 157.6,207.0 158.1,205.5 158.6,204.1 159.0,202.7 159.4,201.5 159.8,200.3 160.1,199.2 160.4,198.2 160.7,197.2 161.0,196.1 161.2,195.1 161.5,194.0 161.7,192.9 162.0,191.8 162.2,190.7 162.4,189.6 162.7,188.4 162.9,187.3 163.1,186.1 163.3,184.9 163.5,183.7 163.7,182.5 163.9,181.3 164.1,180.0 164.3,178.8 164.5,177.5 164.7,176.3 164.8,175.1 165.0,173.8 165.2,172.6 165.4,171.3 165.5,170.1 165.7,168.8 165.9,167.6 166.0,166.4 166.2,165.1 166.3,163.9 166.5,162.7 166.7,161.5 166.8,160.3 167.0,159.1 167.1,157.9 167.3,156.7 167.5,155.5 167.6,154.3 167.8,153.1 168.0,151.9 168.1,150.7 168.3,149.5 168.5,148.3 168.7,147.2 168.9,146.0 169.1,144.8 169.3,143.7 169.5,142.5 169.7,141.3 170.0,140.1 170.2,139.0 170.5,137.8 170.7,136.6 171.0,135.5 171.3,134.3 171.6,133.2 171.9,132.0 172.3,130.8 172.6,129.7 173.0,128.5 173.5,127.4 173.9,126.2 174.4,125.1 174.9,123.9 175.5,122.9 176.2,121.8 177.0,120.9 177.8,120.1 178.8,119.5 180.0,118.9 181.1,118.6 182.3,118.3 183.6,118.3 184.8,118.3 186.0,118.5 187.2,118.8 188.3,119.1 189.4,119.5 190.6,120.0 191.6,120.5 192.7,121.1 193.8,121.7 194.8,122.3 195.9,122.9 196.9,123.5 198.0,124.1 199.0,124.7" fill="none" stroke="#000000" stroke-width="1.05" stroke-linejoin="round" stroke-linecap="round"/>
<polygon points="107.0,129.8 108.2,129.7 109.4,129.7 110.6,129.6 111.8,129.4 113.0,129.3 114.2,129.1 115.4,128.9 116.6,128.7 117.8,128.5 119.0,128.3 120.2,128.2 121.4,128.0 122.6,128.0 123.8,127.9 125.0,128.0 126.2,128.1 127.4,128.3 128.6,128.5 129.8,128.9 130.9,129.3 132.0,129.9 133.0,130.5 134.0,131.2 134.9,132.0 135.8,132.9 136.6,133.8 137.3,134.8 138.0,135.8 138.6,136.9 139.1,137.9 139.6,139.0 140.0,140.2 140.4,141.3 140.8,142.5 141.1,143.7 141.4,144.9 141.7,146.1 142.0,147.2 142.3,148.4 142.5,149.6 142.8,150.8 143.1,152.0 143.4,153.1 143.6,154.3 143.9,155.5 144.2,156.6 144.4,157.8 144.7,159.0 144.9,160.1 145.2,161.3 145.4,162.5 145.6,163.7 145.9,164.9 146.1,166.1 146.3,167.3 146.5,168.5 146.7,169.8 146.9,171.0 147.1,172.2 147.3,173.5 147.5,174.7 147.7,175.9 147.8,177.2 148.0,178.4 148.2,179.7 148.4,180.9 148.6,182.1 148.8,183.3 149.0,184.5 149.2,185.7 149.4,186.9 149.6,188.1 149.8,189.2 150.0,190.4 150.3,191.5 150.5,192.6 150.8,193.7 151.0,194.7 151.3,195.8 151.6,196.8 151.9,197.8 152.2,198.9 152.6,200.0 153.0,201.2 153.4,202.4 153.8,203.8 154.3,205.3 154.8,206.7 155.3,207.9 155.9,208.6 156.5,208.5 157.0,207.7 157.6,206.4 158.1,204.9 158.6,203.4 159.0,202.1 159.4,200.8 159.8,199.7 160.1,198.6 160.4,197.5 160.7,196.5 161.0,195.5 161.2,194.4 161.5,193.4 161.7,192.3 162.0,191.2 162.2,190.1 162.4,188.9 162.7,187.8 162.9,186.6 163.1,185.4 163.3,184.2 163.5,183.0 163.7,181.8 163.9,180.6 164.1,179.4 164.3,178.1 164.5,176.9 164.7,175.7 164.8,174.4 165.0,173.2 165.2,171.9 165.4,170.7 165.5,169.4 165.7,168.2 165.9,166.9 166.0,165.7 166.2,164.5 166.3,163.3 166.5,162.0 166.7,160.8 166.8,159.6 167.0,158.4 167.1,157.2 167.3,156.0 167.5,154.8 167.6,153.6 167.8,152.4 168.0,151.2 168.1,150.1 168.3,148.9 168.5,147.7 168.7,146.5 168.9,145.3 169.1,144.2 169.3,143.0 169.5,141.8 169.7,140.7 170.0,139.5 170.2,138.3 170.5,137.2 170.7,136.0 171.0,134.8 171.3,133.7 171.6,132.5 171.9,131.3 172.3,130.2 172.6,129.0 173.0,127.9 173.5,126.7 173.9,125.6 174.4,124.4 174.9,123.3 175.5,122.2 176.2,121.2 177.0,120.3 177.8,119.5 178.8,118.8 180.0,118.3 181.1,117.9 182.3,117.7 183.6,117.6 184.8,117.7 186.0,117.8 187.2,118.1 188.3,118.5 189.4,118.9 190.6,119.3 191.6,119.9 192.7,120.4 193.8,121.0 194.8,121.6 195.9,122.2 196.9,122.9 198.0,123.5 199.0,124.0 199.0,125.3 198.0,124.8 196.9,124.2 195.9,123.5 194.8,122.9 193.8,122.3 192.7,121.7 191.6,121.2 190.6,120.6 189.4,120.2 188.3,119.8 187.2,119.4 186.0,119.1 184.8,119.0 183.6,118.9 182.3,119.0 181.1,119.2 180.0,119.6 178.8,120.1 177.8,120.8 177.0,121.6 176.2,122.5 175.5,123.5 174.9,124.6 174.4,125.7 173.9,126.9 173.5,128.0 173.0,129.2 172.6,130.3 172.3,131.5 171.9,132.6 171.6,133.8 171.3,135.0 171.0,136.1 170.7,137.3 170.5,138.5 170.2,139.6 170.0,140.8 169.7,142.0 169.5,143.1 169.3,144.3 169.1,145.5 168.9,146.6 168.7,147.8 168.5,149.0 168.3,150.2 168.1,151.4 168.0,152.5 167.8,153.7 167.6,154.9 167.5,156.1 167.3,157.3 167.1,158.5 167.0,159.7 166.8,160.9 166.7,162.1 166.5,163.3 166.3,164.6 166.2,165.8 166.0,167.0 165.9,168.2 165.7,169.5 165.5,170.7 165.4,172.0 165.2,173.2 165.0,174.5 164.8,175.7 164.7,177.0 164.5,178.2 164.3,179.4 164.1,180.7 163.9,181.9 163.7,183.1 163.5,184.3 163.3,185.5 163.1,186.7 162.9,187.9 162.7,189.1 162.4,190.2 162.2,191.4 162.0,192.5 161.7,193.6 161.5,194.7 161.2,195.7 161.0,196.8 160.7,197.8 160.4,198.8 160.1,199.9 159.8,201.0 159.4,202.1 159.0,203.4 158.6,204.7 158.1,206.2 157.6,207.7 157.0,209.0 156.5,209.8 155.9,209.9 155.3,209.2 154.8,208.0 154.3,206.6 153.8,205.1 153.4,203.7 153.0,202.5 152.6,201.3 152.2,200.2 151.9,199.1 151.6,198.1 151.3,197.1 151.0,196.0 150.8,195.0 150.5,193.9 150.3,192.8 150.0,191.7 149.8,190.5 149.6,189.4 149.4,188.2 149.2,187.0 149.0,185.8 148.8,184.6 148.6,183.4 148.4,182.2 148.2,181.0 148.0,179.7 147.8,178.5 147.7,177.2 147.5,176.0 147.3,174.8 147.1,173.5 146.9,172.3 146.7,171.1 146.5,169.8 146.3,168.6 146.1,167.4 145.9,166.2 145.6,165.0 145.4,163.8 145.2,162.6 144.9,161.4 144.7,160.3 144.4,159.1 144.2,157.9 143.9,156.8 143.6,155.6 143.4,154.4 143.1,153.3 142.8,152.1 142.5,150.9 142.3,149.7 142.0,148.5 141.7,147.4 141.4,146.2 141.1,145.0 140.8,143.8 140.4,142.6 140.0,141.5 139.6,140.3 139.1,139.2 138.6,138.2 138.0,137.1 137.3,136.1 136.6,135.1 135.8,134.2 134.9,133.3 134.0,132.5 133.0,131.8 132.0,131.2 130.9,130.6 129.8,130.2 128.6,129.8 127.4,129.6 126.2,129.4 125.0,129.3 123.8,129.2 122.6,129.3 121.4,129.3 120.2,129.5 119.0,129.6 117.8,129.8 116.6,130.0 115.4,130.2 114.2,130.4 113.0,130.6 111.8,130.7 110.6,130.9 109.4,131.0 108.2,131.0 107.0,131.1" fill="#000000"/>
<polyline points="107.0,129.0 108.2,128.9 109.5,128.8 110.7,128.7 111.9,128.6 113.1,128.4 114.2,128.3 115.4,128.1 116.6,128.0 117.8,127.8 119.0,127.7 120.2,127.5 121.4,127.3 122.6,127.1 123.9,126.9 125.1,126.8 126.3,126.8 127.5,126.9 128.6,127.2 129.7,127.7 130.7,128.3 131.8,129.1 132.8,129.8 133.8,130.6 134.7,131.4 135.6,132.2 136.5,133.1 137.3,134.0 138.1,134.9 138.8,135.8 139.4,136.8 139.9,137.9 140.4,139.0 140.8,140.1 141.2,141.2 141.5,142.4 141.8,143.6 142.1,144.8 142.3,146.0 142.5,147.3 142.7,148.5 143.0,149.7 143.2,150.9 143.4,152.1 143.6,153.3 143.8,154.5 144.1,155.7 144.3,156.9 144.6,158.1 144.8,159.2 145.0,160.4 145.3,161.6 145.5,162.8 145.7,164.0 146.0,165.2 146.2,166.3 146.4,167.6 146.6,168.8 146.8,170.0 147.0,171.2 147.2,172.5 147.4,173.7 147.6,174.9 147.8,176.2 148.0,177.4 148.2,178.7 148.3,179.9 148.5,181.2 148.7,182.4 148.9,183.6 149.1,184.8 149.3,186.0 149.5,187.2 149.7,188.4 149.9,189.6 150.1,190.7 150.3,191.9 150.6,193.0 150.8,194.1 151.1,195.1 151.3,196.2 151.6,197.2 151.9,198.2 152.2,199.3 152.6,200.4 152.9,201.5 153.3,202.8 153.7,204.1 154.2,205.6 154.7,207.1 155.2,208.5 155.7,209.4 156.2,209.6 156.8,209.0 157.3,207.9 157.8,206.5 158.3,205.0 158.8,203.5 159.2,202.2 159.5,201.0 159.9,199.9 160.2,198.8 160.5,197.8 160.8,196.8 161.1,195.7 161.3,194.7 161.6,193.6 161.8,192.5 162.1,191.4 162.3,190.3 162.6,189.1 162.8,188.0 163.0,186.8 163.2,185.6 163.5,184.4 163.7,183.2 163.9,182.0 164.1,180.7 164.3,179.5 164.5,178.3 164.7,177.0 164.8,175.8 165.0,174.5 165.2,173.3 165.4,172.0 165.6,170.8 165.8,169.5 166.0,168.3 166.1,167.0 166.3,165.8 166.5,164.6 166.7,163.4 166.9,162.2 167.1,161.0 167.3,159.7 167.5,158.5 167.7,157.4 167.9,156.2 168.1,155.0 168.3,153.8 168.5,152.6 168.8,151.4 169.0,150.3 169.3,149.1 169.5,147.9 169.8,146.7 170.1,145.6 170.3,144.4 170.6,143.2 170.9,142.1 171.2,140.9 171.6,139.8 171.9,138.6 172.3,137.4 172.6,136.3 173.0,135.1 173.4,134.0 173.8,132.9 174.3,131.7 174.8,130.6 175.3,129.5 175.8,128.4 176.4,127.3 176.9,126.3 177.6,125.2 178.2,124.2 179.0,123.2 179.7,122.3 180.6,121.4 181.5,120.6 182.4,119.8 183.5,119.1 184.5,118.6 185.7,118.1 186.8,117.8 188.0,117.6 189.2,117.5 190.5,117.5 191.7,117.6 192.9,117.7 194.1,118.0 195.2,118.3 196.4,118.7 197.5,119.2 198.6,119.7 199.6,120.3 200.7,120.9 201.7,121.5 202.8,122.1 203.8,122.7 204.9,123.3" fill="none" stroke="#0000ff" stroke-width="1.05" stroke-linejoin="round" stroke-linecap="round"/>
<polygon points="107.0,128.3 108.2,128.2 109.5,128.1 110.7,128.0 111.9,127.9 113.1,127.8 114.2,127.6 115.4,127.5 116.6,127.3 117.8,127.2 119.0,127.0 120.2,126.8 121.4,126.6 122.6,126.4 123.9,126.3 125.1,126.1 126.3,126.1 127.5,126.3 128.6,126.6 129.7,127.1 130.7,127.7 131.8,128.4 132.8,129.2 133.8,130.0 134.7,130.8 135.6,131.6 136.5,132.4 137.3,133.3 138.1,134.2 138.8,135.2 139.4,136.2 139.9,137.2 140.4,138.3 140.8,139.4 141.2,140.6 141.5,141.8 141.8,143.0 142.1,144.2 142.3,145.4 142.5,146.6 142.7,147.8 143.0,149.1 143.2,150.3 143.4,151.5 143.6,152.7 143.8,153.9 144.1,155.1 144.3,156.2 144.6,157.4 144.8,158.6 145.0,159.8 145.3,160.9 145.5,162.1 145.7,163.3 146.0,164.5 146.2,165.7 146.4,166.9 146.6,168.1 146.8,169.3 147.0,170.6 147.2,171.8 147.4,173.0 147.6,174.3 147.8,175.5 148.0,176.8 148.2,178.0 148.3,179.3 148.5,180.5 148.7,181.7 148.9,183.0 149.1,184.2 149.3,185.4 149.5,186.6 149.7,187.8 149.9,188.9 150.1,190.1 150.3,191.2 150.6,192.3 150.8,193.4 151.1,194.5 151.3,195.5 151.6,196.6 151.9,197.6 152.2,198.6 152.6,199.7 152.9,200.9 153.3,202.1 153.7,203.5 154.2,205.0 154.7,206.5 155.2,207.8 155.7,208.7 156.2,208.9 156.8,208.4 157.3,207.3 157.8,205.8 158.3,204.3 158.8,202.9 159.2,201.6 159.5,200.4 159.9,199.2 160.2,198.2 160.5,197.1 160.8,196.1 161.1,195.1 161.3,194.0 161.6,193.0 161.8,191.9 162.1,190.7 162.3,189.6 162.6,188.5 162.8,187.3 163.0,186.1 163.2,184.9 163.5,183.7 163.7,182.5 163.9,181.3 164.1,180.1 164.3,178.8 164.5,177.6 164.7,176.4 164.8,175.1 165.0,173.9 165.2,172.6 165.4,171.4 165.6,170.1 165.8,168.9 166.0,167.6 166.1,166.4 166.3,165.2 166.5,163.9 166.7,162.7 166.9,161.5 167.1,160.3 167.3,159.1 167.5,157.9 167.7,156.7 167.9,155.5 168.1,154.3 168.3,153.1 168.5,152.0 168.8,150.8 169.0,149.6 169.3,148.4 169.5,147.3 169.8,146.1 170.1,144.9 170.3,143.8 170.6,142.6 170.9,141.4 171.2,140.3 171.6,139.1 171.9,138.0 172.3,136.8 172.6,135.6 173.0,134.5 173.4,133.3 173.8,132.2 174.3,131.1 174.8,130.0 175.3,128.9 175.8,127.8 176.4,126.7 176.9,125.6 177.6,124.6 178.2,123.6 179.0,122.6 179.7,121.6 180.6,120.8 181.5,119.9 182.4,119.2 183.5,118.5 184.5,117.9 185.7,117.5 186.8,117.1 188.0,116.9 189.2,116.9 190.5,116.9 191.7,116.9 192.9,117.1 194.1,117.3 195.2,117.6 196.4,118.0 197.5,118.5 198.6,119.1 199.6,119.6 200.7,120.3 201.7,120.9 202.8,121.5 203.8,122.1 204.9,122.6 204.9,124.0 203.8,123.4 202.8,122.8 201.7,122.2 200.7,121.6 199.6,120.9 198.6,120.4 197.5,119.8 196.4,119.3 195.2,118.9 194.1,118.6 192.9,118.4 191.7,118.2 190.5,118.2 189.2,118.2 188.0,118.2 186.8,118.4 185.7,118.8 184.5,119.2 183.5,119.8 182.4,120.5 181.5,121.2 180.6,122.1 179.7,122.9 179.0,123.9 178.2,124.9 177.6,125.9 176.9,126.9 176.4,128.0 175.8,129.1 175.3,130.2 174.8,131.3 174.3,132.4 173.8,133.5 173.4,134.6 173.0,135.8 172.6,136.9 172.3,138.1 171.9,139.3 171.6,140.4 171.2,141.6 170.9,142.7 170.6,143.9 170.3,145.1 170.1,146.2 169.8,147.4 169.5,148.6 169.3,149.7 169.0,150.9 168.8,152.1 168.5,153.3 168.3,154.4 168.1,155.6 167.9,156.8 167.7,158.0 167.5,159.2 167.3,160.4 167.1,161.6 166.9,162.8 166.7,164.0 166.5,165.2 166.3,166.5 166.1,167.7 166.0,168.9 165.8,170.2 165.6,171.4 165.4,172.7 165.2,173.9 165.0,175.2 164.8,176.4 164.7,177.7 164.5,178.9 164.3,180.1 164.1,181.4 163.9,182.6 163.7,183.8 163.5,185.0 163.2,186.2 163.0,187.4 162.8,188.6 162.6,189.8 162.3,190.9 162.1,192.0 161.8,193.2 161.6,194.3 161.3,195.3 161.1,196.4 160.8,197.4 160.5,198.4 160.2,199.5 159.9,200.5 159.5,201.7 159.2,202.9 158.8,204.2 158.3,205.6 157.8,207.1 157.3,208.6 156.8,209.7 156.2,210.2 155.7,210.0 155.2,209.1 154.7,207.8 154.2,206.3 153.7,204.8 153.3,203.4 152.9,202.2 152.6,201.0 152.2,199.9 151.9,198.9 151.6,197.9 151.3,196.8 151.1,195.8 150.8,194.7 150.6,193.6 150.3,192.5 150.1,191.4 149.9,190.2 149.7,189.1 149.5,187.9 149.3,186.7 149.1,185.5 148.9,184.3 148.7,183.0 148.5,181.8 148.3,180.6 148.2,179.3 148.0,178.1 147.8,176.8 147.6,175.6 147.4,174.3 147.2,173.1 147.0,171.9 146.8,170.6 146.6,169.4 146.4,168.2 146.2,167.0 146.0,165.8 145.7,164.6 145.5,163.4 145.3,162.2 145.0,161.1 144.8,159.9 144.6,158.7 144.3,157.5 144.1,156.4 143.8,155.2 143.6,154.0 143.4,152.8 143.2,151.6 143.0,150.4 142.7,149.1 142.5,147.9 142.3,146.7 142.1,145.5 141.8,144.3 141.5,143.1 141.2,141.9 140.8,140.7 140.4,139.6 139.9,138.5 139.4,137.5 138.8,136.5 138.1,135.5 137.3,134.6 136.5,133.7 135.6,132.9 134.7,132.1 133.8,131.3 132.8,130.5 131.8,129.7 130.7,129.0 129.7,128.4 128.6,127.9 127.5,127.6 126.3,127.4 125.1,127.4 123.9,127.6 122.6,127.7 121.4,127.9 120.2,128.1 119.0,128.3 117.8,128.5 116.6,128.6 115.4,128.8 114.2,128.9 113.1,129.1 111.9,129.2 110.7,129.3 109.5,129.4 108.2,129.5 107.0,129.7" fill="#0000ff"/>
<polyline points="107.0,123.3 108.2,122.9 109.4,122.6 110.6,122.5 111.8,122.5 113.0,122.6 114.2,122.7 115.3,122.9 116.5,123.2 117.7,123.5 118.9,123.8 120.1,124.1 121.2,124.5 122.4,124.9 123.5,125.4 124.5,126.0 125.6,126.6 126.5,127.3 127.5,128.0 128.4,128.7 129.4,129.5 130.3,130.3 131.2,131.2 132.1,132.0 133.0,132.8 133.9,133.6 134.8,134.5 135.6,135.4 136.4,136.3 137.1,137.2 137.8,138.2 138.4,139.2 139.0,140.3 139.5,141.4 140.0,142.5 140.4,143.6 140.8,144.8 141.1,145.9 141.5,147.1 141.8,148.3 142.1,149.5 142.4,150.7 142.7,151.8 143.0,153.0 143.3,154.2 143.6,155.3 143.8,156.5 144.1,157.7 144.3,158.9 144.6,160.0 144.8,161.2 145.0,162.4 145.3,163.6 145.5,164.8 145.7,166.0 145.9,167.2 146.2,168.4 146.4,169.6 146.6,170.8 146.8,172.0 147.0,173.3 147.2,174.5 147.5,175.7 147.7,177.0 147.9,178.2 148.1,179.4 148.3,180.6 148.5,181.9 148.7,183.1 148.9,184.3 149.1,185.5 149.4,186.7 149.6,187.9 149.8,189.0 150.0,190.2 150.2,191.3 150.4,192.5 150.6,193.6 150.8,194.7 151.0,195.7 151.3,196.8 151.5,197.8 151.7,198.9 151.9,199.9 152.1,201.0 152.4,202.1 152.6,203.2 152.8,204.3 153.1,205.6 153.3,206.8 153.5,208.2 153.8,209.6 154.0,211.1 154.3,212.8 154.5,214.4 154.8,216.0 155.1,217.4 155.3,218.7 155.6,219.6 155.8,220.3 156.1,220.5 156.4,220.3 156.6,219.6 156.9,218.6 157.1,217.3 157.4,215.9 157.7,214.3 158.0,212.7 158.3,211.1 158.6,209.6 158.9,208.1 159.3,206.8 159.6,205.6 160.0,204.4 160.3,203.2 160.7,202.1 161.0,201.1 161.4,200.0 161.7,199.0 162.0,198.0 162.3,197.0 162.6,196.0 162.9,194.9 163.1,193.8 163.4,192.7 163.6,191.6 163.8,190.5 164.0,189.3 164.2,188.2 164.3,187.0 164.5,185.8 164.6,184.6 164.7,183.4 164.9,182.2 165.0,180.9 165.1,179.7 165.2,178.4 165.3,177.2 165.4,175.9 165.5,174.7 165.6,173.4 165.7,172.2 165.8,170.9 165.9,169.7 166.1,168.4 166.2,167.2 166.3,166.0 166.4,164.7 166.6,163.5 166.7,162.3 166.8,161.1 167.0,159.9 167.2,158.7 167.3,157.5 167.5,156.3 167.7,155.1 167.9,153.9 168.1,152.7 168.3,151.5 168.5,150.4 168.7,149.2 168.9,148.0 169.1,146.8 169.4,145.7 169.6,144.5 169.8,143.3 170.1,142.1 170.4,141.0 170.6,139.8 170.9,138.6 171.2,137.5 171.5,136.3 171.9,135.1 172.2,134.0 172.6,132.8 173.0,131.7 173.4,130.5 173.9,129.4 174.4,128.3 174.9,127.2 175.5,126.1 176.1,125.1 176.7,124.1 177.5,123.1 178.3,122.2 179.1,121.3 180.0,120.5 181.0,119.8 182.0,119.2 183.1,118.6 184.3,118.2 185.4,117.9 186.6,117.7 187.8,117.6 189.1,117.6 190.3,117.6 191.5,117.7 192.7,117.9 193.9,118.1 195.0,118.5 196.1,119.0 197.2,119.5 198.2,120.2 199.2,120.9 200.2,121.6 201.1,122.4 202.1,123.2 203.0,124.0 204.0,124.7 204.9,125.4" fill="none" stroke="#ffa500" stroke-width="1.05" stroke-linejoin="round" stroke-linecap="round"/>
<polygon points="107.0,122.6 108.2,122.3 109.4,122.0 110.6,121.9 111.8,121.9 113.0,121.9 114.2,122.1 115.3,122.3 116.5,122.5 117.7,122.8 118.9,123.1 120.1,123.5 121.2,123.9 122.4,124.3 123.5,124.8 124.5,125.3 125.6,125.9 126.5,126.6 127.5,127.3 128.4,128.1 129.4,128.9 130.3,129.7 131.2,130.5 132.1,131.3 133.0,132.2 133.9,133.0 134.8,133.8 135.6,134.7 136.4,135.6 137.1,136.6 137.8,137.5 138.4,138.6 139.0,139.6 139.5,140.7 140.0,141.8 140.4,143.0 140.8,144.1 141.1,145.3 141.5,146.5 141.8,147.6 142.1,148.8 142.4,150.0 142.7,151.2 143.0,152.4 143.3,153.5 143.6,154.7 143.8,155.9 144.1,157.0 144.3,158.2 144.6,159.4 144.8,160.6 145.0,161.7 145.3,162.9 145.5,164.1 145.7,165.3 145.9,166.5 146.2,167.7 146.4,168.9 146.6,170.2 146.8,171.4 147.0,172.6 147.2,173.8 147.5,175.1 147.7,176.3 147.9,177.5 148.1,178.8 148.3,180.0 148.5,181.2 148.7,182.4 148.9,183.6 149.1,184.8 149.4,186.0 149.6,187.2 149.8,188.4 150.0,189.5 150.2,190.7 150.4,191.8 150.6,192.9 150.8,194.0 151.0,195.1 151.3,196.1 151.5,197.2 151.7,198.2 151.9,199.3 152.1,200.3 152.4,201.4 152.6,202.5 152.8,203.7 153.1,204.9 153.3,206.2 153.5,207.5 153.8,209.0 154.0,210.5 154.3,212.1 154.5,213.7 154.8,215.3 155.1,216.8 155.3,218.0 155.6,219.0 155.8,219.6 156.1,219.8 156.4,219.6 156.6,218.9 156.9,217.9 157.1,216.7 157.4,215.2 157.7,213.6 158.0,212.0 158.3,210.4 158.6,208.9 158.9,207.5 159.3,206.2 159.6,204.9 160.0,203.7 160.3,202.6 160.7,201.5 161.0,200.4 161.4,199.4 161.7,198.4 162.0,197.4 162.3,196.3 162.6,195.3 162.9,194.3 163.1,193.2 163.4,192.1 163.6,191.0 163.8,189.8 164.0,188.7 164.2,187.5 164.3,186.4 164.5,185.2 164.6,184.0 164.7,182.7 164.9,181.5 165.0,180.3 165.1,179.0 165.2,177.8 165.3,176.5 165.4,175.3 165.5,174.0 165.6,172.8 165.7,171.5 165.8,170.3 165.9,169.0 166.1,167.8 166.2,166.5 166.3,165.3 166.4,164.1 166.6,162.9 166.7,161.6 166.8,160.4 167.0,159.2 167.2,158.0 167.3,156.8 167.5,155.6 167.7,154.4 167.9,153.2 168.1,152.1 168.3,150.9 168.5,149.7 168.7,148.5 168.9,147.4 169.1,146.2 169.4,145.0 169.6,143.8 169.8,142.7 170.1,141.5 170.4,140.3 170.6,139.2 170.9,138.0 171.2,136.8 171.5,135.6 171.9,134.5 172.2,133.3 172.6,132.2 173.0,131.0 173.4,129.9 173.9,128.8 174.4,127.7 174.9,126.6 175.5,125.5 176.1,124.4 176.7,123.4 177.5,122.4 178.3,121.5 179.1,120.6 180.0,119.8 181.0,119.1 182.0,118.5 183.1,118.0 184.3,117.6 185.4,117.2 186.6,117.0 187.8,116.9 189.1,116.9 190.3,117.0 191.5,117.1 192.7,117.2 193.9,117.5 195.0,117.9 196.1,118.3 197.2,118.9 198.2,119.5 199.2,120.2 200.2,121.0 201.1,121.8 202.1,122.5 203.0,123.3 204.0,124.1 204.9,124.8 204.9,126.1 204.0,125.4 203.0,124.6 202.1,123.8 201.1,123.1 200.2,122.3 199.2,121.5 198.2,120.8 197.2,120.2 196.1,119.6 195.0,119.2 193.9,118.8 192.7,118.5 191.5,118.4 190.3,118.3 189.1,118.2 187.8,118.2 186.6,118.3 185.4,118.5 184.3,118.9 183.1,119.3 182.0,119.8 181.0,120.4 180.0,121.1 179.1,121.9 178.3,122.8 177.5,123.7 176.7,124.7 176.1,125.7 175.5,126.8 174.9,127.9 174.4,129.0 173.9,130.1 173.4,131.2 173.0,132.3 172.6,133.5 172.2,134.6 171.9,135.8 171.5,136.9 171.2,138.1 170.9,139.3 170.6,140.5 170.4,141.6 170.1,142.8 169.8,144.0 169.6,145.1 169.4,146.3 169.1,147.5 168.9,148.7 168.7,149.8 168.5,151.0 168.3,152.2 168.1,153.4 167.9,154.5 167.7,155.7 167.5,156.9 167.3,158.1 167.2,159.3 167.0,160.5 166.8,161.7 166.7,162.9 166.6,164.2 166.4,165.4 166.3,166.6 166.2,167.8 166.1,169.1 165.9,170.3 165.8,171.6 165.7,172.8 165.6,174.1 165.5,175.3 165.4,176.6 165.3,177.8 165.2,179.1 165.1,180.3 165.0,181.6 164.9,182.8 164.7,184.0 164.6,185.3 164.5,186.5 164.3,187.7 164.2,188.8 164.0,190.0 163.8,191.1 163.6,192.3 163.4,193.4 163.1,194.5 162.9,195.6 162.6,196.6 162.3,197.6 162.0,198.7 161.7,199.7 161.4,200.7 161.0,201.7 160.7,202.8 160.3,203.9 160.0,205.0 159.6,206.2 159.3,207.5 158.9,208.8 158.6,210.2 158.3,211.7 158.0,213.3 157.7,214.9 157.4,216.5 157.1,218.0 156.9,219.2 156.6,220.2 156.4,220.9 156.1,221.1 155.8,220.9 155.6,220.3 155.3,219.3 155.1,218.1 154.8,216.6 154.5,215.0 154.3,213.4 154.0,211.8 153.8,210.3 153.5,208.8 153.3,207.5 153.1,206.2 152.8,205.0 152.6,203.8 152.4,202.7 152.1,201.6 151.9,200.6 151.7,199.5 151.5,198.5 151.3,197.4 151.0,196.4 150.8,195.3 150.6,194.2 150.4,193.1 150.2,192.0 150.0,190.8 149.8,189.7 149.6,188.5 149.4,187.3 149.1,186.1 148.9,184.9 148.7,183.7 148.5,182.5 148.3,181.3 148.1,180.1 147.9,178.8 147.7,177.6 147.5,176.4 147.2,175.1 147.0,173.9 146.8,172.7 146.6,171.5 146.4,170.2 146.2,169.0 145.9,167.8 145.7,166.6 145.5,165.4 145.3,164.2 145.0,163.0 144.8,161.9 144.6,160.7 144.3,159.5 144.1,158.3 143.8,157.2 143.6,156.0 143.3,154.8 143.0,153.7 142.7,152.5 142.4,151.3 142.1,150.1 141.8,148.9 141.5,147.8 141.1,146.6 140.8,145.4 140.4,144.3 140.0,143.1 139.5,142.0 139.0,140.9 138.4,139.9 137.8,138.8 137.1,137.9 136.4,136.9 135.6,136.0 134.8,135.1 133.9,134.3 133.0,133.5 132.1,132.6 131.2,131.8 130.3,131.0 129.4,130.2 128.4,129.4 127.5,128.6 126.5,127.9 125.6,127.2 124.5,126.6 123.5,126.1 122.4,125.6 121.2,125.2 120.1,124.8 118.9,124.4 117.7,124.1 116.5,123.8 115.3,123.6 114.2,123.4 113.0,123.2 111.8,123.2 110.6,123.2 109.4,123.3 108.2,123.6 107.0,124.0" fill="#ffa500"/>
<polyline points="101.2,132.2 102.2,131.5 103.2,130.9 104.3,130.3 105.4,129.7 106.5,129.2 107.6,128.8 108.7,128.3 109.9,127.9 111.0,127.5 112.2,127.2 113.4,126.9 114.6,126.6 115.7,126.4 116.9,126.2 118.1,126.0 119.3,125.9 120.6,125.7 121.8,125.7 123.0,125.7 124.2,125.8 125.4,126.1 126.6,126.4 127.7,126.9 128.8,127.4 129.8,128.1 130.8,128.8 131.7,129.6 132.6,130.4 133.5,131.3 134.3,132.2 135.1,133.1 135.9,134.0 136.6,135.0 137.3,136.0 138.0,137.0 138.6,138.0 139.2,139.1 139.8,140.1 140.2,141.3 140.7,142.4 141.1,143.5 141.4,144.7 141.8,145.9 142.1,147.0 142.4,148.2 142.6,149.4 142.9,150.6 143.2,151.8 143.4,153.0 143.7,154.2 144.0,155.4 144.2,156.5 144.5,157.7 144.8,158.9 145.0,160.1 145.3,161.2 145.6,162.4 145.9,163.6 146.1,164.8 146.4,166.0 146.6,167.2 146.9,168.4 147.1,169.6 147.3,170.8 147.6,172.0 147.8,173.2 148.0,174.4 148.2,175.7 148.4,176.9 148.7,178.1 148.9,179.3 149.1,180.5 149.3,181.7 149.5,182.8 149.8,184.0 150.0,185.1 150.3,186.2 150.5,187.3 150.8,188.4 151.2,189.5 151.7,190.7 152.4,191.9 153.1,193.1 153.9,193.7 154.5,193.2 155.0,191.8 155.4,190.1 155.7,188.5 156.0,187.4 156.2,187.5 156.5,188.5 156.8,190.1 157.2,191.8 157.7,193.2 158.3,193.7 159.1,193.1 159.9,191.9 160.5,190.7 161.1,189.5 161.5,188.4 161.9,187.4 162.2,186.3 162.5,185.2 162.8,184.1 163.1,183.0 163.3,181.8 163.5,180.6 163.8,179.4 164.0,178.2 164.2,177.0 164.4,175.8 164.6,174.6 164.8,173.3 165.0,172.1 165.2,170.9 165.4,169.7 165.6,168.4 165.8,167.2 166.0,166.0 166.2,164.8 166.4,163.6 166.6,162.4 166.9,161.3 167.1,160.1 167.3,158.9 167.6,157.7 167.8,156.5 168.1,155.4 168.3,154.2 168.6,153.0 168.8,151.8 169.1,150.6 169.4,149.4 169.7,148.3 170.0,147.1 170.3,145.9 170.7,144.7 171.0,143.6 171.4,142.4 171.8,141.3 172.3,140.2 172.7,139.0 173.2,137.9 173.8,136.9 174.3,135.8 175.0,134.7 175.6,133.7 176.3,132.7 177.1,131.8 177.9,130.8 178.7,129.9 179.6,129.1 180.5,128.3 181.5,127.6 182.6,127.0 183.7,126.5 184.8,126.1 186.0,125.8 187.2,125.6 188.4,125.5 189.7,125.5 190.9,125.5 192.1,125.7 193.3,125.8 194.5,126.1 195.7,126.4 196.8,126.7 198.0,127.1 199.1,127.5 200.3,127.9 201.4,128.4 202.5,128.8 203.6,129.3 204.8,129.7 205.9,130.2 207.0,130.6 208.2,131.0 209.3,131.4 210.4,131.8 211.6,132.2" fill="none" stroke="#0000ff" stroke-width="0.8" stroke-linejoin="round" stroke-linecap="round"/>
<polyline points="101.2,132.2 102.2,131.5 103.2,130.8 104.2,130.2 105.3,129.6 106.4,129.1 107.5,128.6 108.6,128.2 109.8,127.8 110.9,127.4 112.1,127.0 113.3,126.7 114.4,126.4 115.6,126.2 116.8,125.9 118.0,125.7 119.2,125.6 120.4,125.4 121.6,125.4 122.8,125.4 124.0,125.5 125.2,125.7 126.4,126.1 127.5,126.5 128.6,127.1 129.6,127.8 130.6,128.5 131.6,129.2 132.4,130.1 133.3,131.0 134.1,131.9 134.8,132.8 135.6,133.8 136.3,134.7 137.0,135.7 137.7,136.7 138.3,137.8 138.9,138.8 139.4,139.9 139.9,141.0 140.4,142.1 140.8,143.3 141.1,144.4 141.5,145.6 141.8,146.8 142.1,147.9 142.4,149.1 142.6,150.3 142.9,151.5 143.1,152.7 143.4,153.9 143.7,155.1 143.9,156.3 144.2,157.4 144.4,158.6 144.7,159.8 144.9,161.0 145.2,162.2 145.4,163.3 145.7,164.5 146.0,165.7 146.2,166.9 146.5,168.0 146.8,169.2 147.1,170.4 147.4,171.6 147.7,172.8 148.0,174.0 148.3,175.2 148.6,176.3 148.9,177.5 149.1,178.7 149.3,179.9 149.5,181.1 149.7,182.3 149.8,183.5 149.9,184.7 150.0,185.9 150.0,187.1 150.0,188.3 150.0,189.4 150.1,190.6 150.3,191.8 150.6,193.0 151.1,194.2 151.9,195.3 152.8,196.4 153.9,196.8 154.8,196.1 155.7,195.0 156.5,195.0 157.4,196.0 158.3,196.8 159.3,196.4 160.3,195.4 161.1,194.2 161.6,193.0 162.0,191.8 162.2,190.7 162.3,189.5 162.4,188.3 162.5,187.1 162.5,185.9 162.6,184.8 162.7,183.6 162.9,182.4 163.0,181.2 163.3,180.0 163.5,178.8 163.7,177.6 164.0,176.4 164.3,175.3 164.6,174.1 164.8,172.9 165.1,171.7 165.4,170.5 165.7,169.3 165.9,168.1 166.1,166.9 166.4,165.7 166.6,164.5 166.8,163.3 167.0,162.2 167.3,161.0 167.5,159.8 167.7,158.6 167.9,157.4 168.1,156.2 168.4,155.0 168.6,153.9 168.9,152.7 169.1,151.5 169.4,150.3 169.7,149.1 170.0,148.0 170.3,146.8 170.6,145.6 171.0,144.5 171.3,143.3 171.7,142.2 172.1,141.0 172.6,139.9 173.1,138.8 173.6,137.7 174.1,136.6 174.6,135.5 175.2,134.4 175.9,133.4 176.5,132.4 177.2,131.4 178.0,130.5 178.8,129.6 179.7,128.7 180.7,127.9 181.7,127.2 182.7,126.6 183.8,126.1 185.0,125.8 186.2,125.5 187.4,125.3 188.6,125.2 189.8,125.2 191.0,125.3 192.2,125.4 193.4,125.6 194.6,125.9 195.8,126.2 196.9,126.6 198.1,126.9 199.2,127.3 200.4,127.8 201.5,128.2 202.6,128.6 203.7,129.1 204.9,129.5 206.0,130.0 207.1,130.4 208.2,130.9 209.3,131.3 210.5,131.8 211.6,132.2" fill="none" stroke="#ffa500" stroke-width="0.9" stroke-linejoin="round" stroke-linecap="round"/>
<path d="M156.7,225.7 L149.4,238.6 Q153.7,240.2 158.2,239.6 Z" fill="#cacaca"/>
<path d="M156.7,225.7 L158.2,239.6 Q161.7,239.6 164.0,238.6 Z" fill="#b4b4b4"/>
<text class="t" x="94" y="113.3" text-anchor="end">0.5</text>
<text class="t" x="94" y="135.5" text-anchor="end">0</text>
<text class="t" x="94" y="157.7" text-anchor="end">−0.5</text>
<text class="t" x="94" y="179.9" text-anchor="end">−1</text>
<text class="t" x="94" y="202.1" text-anchor="end">−1.5</text>
<text class="t" x="94" y="224.3" text-anchor="end">−2</text>
<text class="t" x="101.8" y="235.4" text-anchor="middle">−10</text>
<text class="t" x="129.4" y="235.4" text-anchor="middle">−5</text>
<text class="t" x="157.0" y="235.4" text-anchor="middle">0</text>
<text class="t" x="184.6" y="235.4" text-anchor="middle">5</text>
<text class="t" x="212.2" y="235.4" text-anchor="middle">10</text>
<text class="t" x="156.3" y="248.9" text-anchor="middle"><tspan class="i">x</tspan> [mm]</text>
<text class="t" transform="translate(66.4,165.8) rotate(-90)" text-anchor="middle"><tspan class="i">U</tspan><tspan font-size="6.5" dy="1.6">y</tspan><tspan dy="-1.6"> [mm/s]</tspan></text>
<rect x="272.9" y="110.2" width="110.7" height="111.7" fill="none" stroke="#9b9b9b" stroke-width="1.1"/>
<path d="M300.6,221.9v-1.6M300.6,110.2v1.6M328.5,221.9v-1.6M328.5,110.2v1.6M356.4,221.9v-1.6M356.4,110.2v1.6M272.9,128.7h1.6M383.6,128.7h-1.6M272.9,147.3h1.6M383.6,147.3h-1.6M272.9,165.8h1.6M383.6,165.8h-1.6M272.9,184.3h1.6M383.6,184.3h-1.6M272.9,202.9h1.6M383.6,202.9h-1.6" stroke="#9b9b9b" stroke-width="0.7" fill="none"/>
<polygon points="283.0,128.6 283.7,127.7 284.7,126.9 285.7,126.2 286.9,125.8 288.1,125.5 289.3,125.7 290.4,126.1 291.4,126.9 292.3,127.7 293.0,128.7 293.5,129.8 294.0,130.9 294.4,132.1 294.7,133.3 295.1,134.5 295.4,135.7 295.8,136.9 296.1,138.0 296.5,139.2 296.9,140.3 297.3,141.4 297.7,142.6 298.1,143.7 298.5,144.9 298.9,146.0 299.3,147.1 299.6,148.3 300.0,149.5 300.4,150.6 300.7,151.8 301.1,153.0 301.4,154.2 301.7,155.4 302.1,156.5 302.4,157.7 302.8,158.8 303.2,160.0 303.5,161.1 303.9,162.2 304.3,163.2 304.7,164.3 305.2,165.4 305.7,166.4 306.4,167.6 307.1,168.7 307.9,169.9 308.7,170.6 309.5,170.6 310.1,169.9 310.6,168.7 311.1,167.2 311.5,165.5 312.0,163.9 312.5,162.4 313.0,161.2 313.7,160.4 314.4,160.0 315.3,160.2 316.3,160.8 317.3,161.8 318.2,162.8 319.1,163.9 319.9,164.9 320.6,165.9 321.3,166.8 322.1,167.7 322.9,168.5 323.7,169.3 324.6,170.0 325.7,170.7 326.8,171.2 328.0,171.5 329.3,171.6 330.5,171.4 331.7,171.0 332.9,170.5 334.0,170.1 335.0,170.0 335.9,170.3 336.7,170.9 337.5,171.8 338.1,172.9 338.7,174.2 339.3,175.6 339.8,177.0 340.3,178.5 340.7,179.8 341.1,181.1 341.5,182.4 341.9,183.6 342.2,184.8 342.6,185.9 342.9,187.0 343.2,188.0 343.5,189.1 343.9,190.1 344.2,191.1 344.5,192.2 344.8,193.2 345.1,194.3 345.5,195.4 345.9,196.6 346.3,197.8 346.8,199.2 347.4,200.6 348.0,202.0 348.6,203.2 349.3,203.9 349.9,203.9 350.4,203.4 350.9,202.3 351.4,200.8 351.8,199.3 352.2,197.7 352.6,196.2 352.9,194.7 353.1,193.4 353.4,192.1 353.6,190.8 353.8,189.6 353.9,188.4 354.1,187.3 354.2,186.2 354.3,185.1 354.5,184.0 354.6,183.0 354.7,181.9 354.8,180.9 354.9,179.8 355.0,178.7 355.1,177.6 355.2,176.5 355.4,175.4 355.5,174.2 355.7,173.0 355.9,171.8 356.0,170.6 356.2,169.4 356.4,168.2 356.6,167.0 356.8,165.7 357.0,164.5 357.2,163.3 357.4,162.0 357.6,160.8 357.8,159.6 358.0,158.4 358.3,157.2 358.5,156.0 358.7,154.8 359.0,153.6 359.2,152.4 359.4,151.2 359.7,150.0 359.9,148.8 360.2,147.7 360.5,146.5 360.8,145.3 361.0,144.1 361.4,143.0 361.7,141.8 362.0,140.6 362.3,139.5 362.7,138.3 363.0,137.2 363.4,136.0 363.8,134.8 364.2,133.7 364.7,132.6 365.1,131.5 365.6,130.4 366.2,129.3 366.7,128.2 367.3,127.2 368.0,126.2 368.8,125.3 369.8,124.4 370.8,123.7 372.0,123.3 373.1,123.4 374.2,123.9 375.3,124.6 376.3,125.3 377.4,126.0 378.4,126.7 379.3,127.3 380.3,128.0 381.2,128.8 382.1,129.7 382.1,132.5 381.2,131.6 380.3,130.8 379.3,130.1 378.4,129.5 377.4,128.8 376.3,128.1 375.3,127.4 374.2,126.7 373.1,126.2 372.0,126.1 370.8,126.5 369.8,127.2 368.8,128.1 368.0,129.0 367.3,130.0 366.7,131.0 366.2,132.1 365.6,133.2 365.1,134.3 364.7,135.4 364.2,136.5 363.8,137.6 363.4,138.8 363.0,140.0 362.7,141.1 362.3,142.3 362.0,143.4 361.7,144.6 361.4,145.8 361.0,146.9 360.8,148.1 360.5,149.3 360.2,150.5 359.9,151.6 359.7,152.8 359.4,154.0 359.2,155.2 359.0,156.4 358.7,157.6 358.5,158.8 358.3,160.0 358.0,161.2 357.8,162.4 357.6,163.6 357.4,164.8 357.2,166.1 357.0,167.3 356.8,168.5 356.6,169.8 356.4,171.0 356.2,172.2 356.0,173.4 355.9,174.6 355.7,175.8 355.5,177.0 355.4,178.2 355.2,179.3 355.1,180.4 355.0,181.5 354.9,182.6 354.8,183.7 354.7,184.7 354.6,185.8 354.5,186.8 354.3,187.9 354.2,189.0 354.1,190.1 353.9,191.2 353.8,192.4 353.6,193.6 353.4,194.9 353.1,196.2 352.9,197.5 352.6,199.0 352.2,200.5 351.8,202.1 351.4,203.6 350.9,205.1 350.4,206.2 349.9,206.7 349.3,206.7 348.6,206.0 348.0,204.8 347.4,203.4 346.8,202.0 346.3,200.6 345.9,199.4 345.5,198.2 345.1,197.1 344.8,196.0 344.5,195.0 344.2,193.9 343.9,192.9 343.5,191.9 343.2,190.8 342.9,189.8 342.6,188.7 342.2,187.6 341.9,186.4 341.5,185.2 341.1,183.9 340.7,182.6 340.3,181.3 339.8,179.8 339.3,178.4 338.7,177.0 338.1,175.7 337.5,174.6 336.7,173.7 335.9,173.1 335.0,172.8 334.0,172.9 332.9,173.3 331.7,173.8 330.5,174.2 329.3,174.4 328.0,174.3 326.8,174.0 325.7,173.5 324.6,172.8 323.7,172.1 322.9,171.3 322.1,170.5 321.3,169.6 320.6,168.7 319.9,167.7 319.1,166.7 318.2,165.6 317.3,164.6 316.3,163.6 315.3,163.0 314.4,162.8 313.7,163.2 313.0,164.0 312.5,165.2 312.0,166.7 311.5,168.3 311.1,170.0 310.6,171.5 310.1,172.7 309.5,173.4 308.7,173.4 307.9,172.7 307.1,171.5 306.4,170.4 305.7,169.2 305.2,168.2 304.7,167.1 304.3,166.0 303.9,165.0 303.5,163.9 303.2,162.8 302.8,161.6 302.4,160.5 302.1,159.3 301.7,158.2 301.4,157.0 301.1,155.8 300.7,154.6 300.4,153.4 300.0,152.3 299.6,151.1 299.3,149.9 298.9,148.8 298.5,147.7 298.1,146.5 297.7,145.4 297.3,144.2 296.9,143.1 296.5,142.0 296.1,140.8 295.8,139.7 295.4,138.5 295.1,137.3 294.7,136.1 294.4,134.9 294.0,133.7 293.5,132.6 293.0,131.5 292.3,130.5 291.4,129.7 290.4,128.9 289.3,128.5 288.1,128.3 286.9,128.6 285.7,129.0 284.7,129.7 283.7,130.5 283.0,131.4" fill="#000" fill-opacity="0.15"/>
<polygon points="283.0,129.4 283.7,128.7 284.5,127.8 285.5,126.8 286.5,126.0 287.6,125.3 288.8,124.9 289.9,125.0 291.0,125.4 291.9,126.2 292.8,127.2 293.6,128.2 294.3,129.3 294.9,130.4 295.4,131.5 295.8,132.6 296.2,133.7 296.6,134.9 296.9,136.0 297.2,137.2 297.6,138.3 297.9,139.5 298.2,140.6 298.6,141.8 298.9,143.0 299.2,144.1 299.6,145.3 299.9,146.5 300.2,147.6 300.6,148.8 300.9,150.0 301.2,151.2 301.5,152.4 301.9,153.6 302.2,154.8 302.5,155.9 302.8,157.1 303.1,158.3 303.4,159.5 303.7,160.7 304.0,161.9 304.3,163.0 304.5,164.2 304.8,165.3 305.0,166.5 305.2,167.6 305.5,168.7 305.7,169.8 306.0,171.0 306.3,172.1 306.7,173.3 307.1,174.6 307.7,175.8 308.3,177.0 309.0,177.8 309.5,177.8 310.1,177.2 310.5,176.1 311.0,174.6 311.4,173.0 311.8,171.2 312.2,169.4 312.7,167.7 313.2,166.3 313.7,165.2 314.3,164.4 315.1,164.1 315.9,164.3 316.8,165.0 317.8,165.9 318.7,167.0 319.5,168.0 320.2,169.0 320.9,170.0 321.5,171.0 322.2,172.0 322.8,173.0 323.4,174.2 324.2,175.4 324.9,176.5 325.8,177.3 326.7,177.7 327.7,177.6 328.7,177.1 329.7,176.3 330.8,175.2 331.7,174.0 332.6,172.8 333.4,171.6 334.3,170.7 335.1,170.0 335.9,169.8 336.7,170.0 337.5,170.7 338.4,171.7 339.1,172.9 339.9,174.2 340.5,175.4 341.1,176.6 341.6,177.8 342.1,178.9 342.5,180.0 342.9,181.1 343.3,182.2 343.6,183.3 344.0,184.3 344.3,185.4 344.7,186.5 345.1,187.6 345.5,188.7 346.1,189.8 346.7,191.0 347.5,192.2 348.4,193.2 349.2,194.0 350.0,194.1 350.7,193.6 351.2,192.7 351.6,191.3 352.0,189.8 352.4,188.2 352.7,186.6 352.9,185.0 353.2,183.6 353.5,182.3 353.7,181.0 353.9,179.8 354.1,178.6 354.3,177.5 354.5,176.4 354.7,175.4 354.9,174.3 355.1,173.3 355.2,172.2 355.4,171.2 355.5,170.1 355.7,169.0 355.9,167.9 356.0,166.7 356.2,165.6 356.4,164.4 356.6,163.2 356.8,162.0 356.9,160.8 357.1,159.5 357.4,158.3 357.6,157.1 357.8,155.8 358.0,154.6 358.3,153.3 358.6,152.1 358.8,150.9 359.1,149.7 359.4,148.5 359.7,147.3 360.1,146.1 360.4,144.9 360.7,143.7 361.1,142.6 361.4,141.4 361.7,140.3 362.1,139.1 362.4,138.0 362.7,136.9 363.1,135.8 363.4,134.7 363.7,133.6 364.1,132.5 364.4,131.4 364.8,130.3 365.2,129.2 365.7,128.0 366.2,126.8 366.7,125.6 367.3,124.3 367.9,123.0 368.6,121.8 369.4,120.8 370.3,120.1 371.3,119.8 372.4,119.9 373.5,120.4 374.6,121.1 375.6,121.9 376.5,122.8 377.3,123.6 378.1,124.5 378.9,125.4 379.6,126.3 380.5,127.2 381.4,128.1 381.4,131.3 380.5,130.4 379.6,129.5 378.9,128.6 378.1,127.7 377.3,126.8 376.5,126.0 375.6,125.1 374.6,124.3 373.5,123.6 372.4,123.1 371.3,123.0 370.3,123.3 369.4,124.0 368.6,125.0 367.9,126.2 367.3,127.5 366.7,128.8 366.2,130.0 365.7,131.2 365.2,132.4 364.8,133.5 364.4,134.6 364.1,135.7 363.7,136.8 363.4,137.9 363.1,139.0 362.7,140.1 362.4,141.2 362.1,142.3 361.7,143.5 361.4,144.6 361.1,145.8 360.7,146.9 360.4,148.1 360.1,149.3 359.7,150.5 359.4,151.7 359.1,152.9 358.8,154.1 358.6,155.3 358.3,156.5 358.0,157.8 357.8,159.0 357.6,160.3 357.4,161.5 357.1,162.7 356.9,164.0 356.8,165.2 356.6,166.4 356.4,167.6 356.2,168.8 356.0,169.9 355.9,171.1 355.7,172.2 355.5,173.3 355.4,174.4 355.2,175.4 355.1,176.5 354.9,177.5 354.7,178.6 354.5,179.6 354.3,180.7 354.1,181.8 353.9,183.0 353.7,184.2 353.5,185.5 353.2,186.8 352.9,188.2 352.7,189.8 352.4,191.4 352.0,193.0 351.6,194.5 351.2,195.9 350.7,196.8 350.0,197.3 349.2,197.2 348.4,196.4 347.5,195.4 346.7,194.2 346.1,193.0 345.5,191.9 345.1,190.8 344.7,189.7 344.3,188.6 344.0,187.5 343.6,186.5 343.3,185.4 342.9,184.3 342.5,183.2 342.1,182.1 341.6,181.0 341.1,179.8 340.5,178.6 339.9,177.4 339.1,176.1 338.4,174.9 337.5,173.9 336.7,173.2 335.9,173.0 335.1,173.2 334.3,173.9 333.4,174.8 332.6,176.0 331.7,177.2 330.8,178.4 329.7,179.5 328.7,180.3 327.7,180.8 326.7,180.9 325.8,180.5 324.9,179.7 324.2,178.6 323.4,177.4 322.8,176.2 322.2,175.2 321.5,174.2 320.9,173.2 320.2,172.2 319.5,171.2 318.7,170.2 317.8,169.1 316.8,168.2 315.9,167.5 315.1,167.3 314.3,167.6 313.7,168.4 313.2,169.5 312.7,170.9 312.2,172.6 311.8,174.4 311.4,176.2 311.0,177.8 310.5,179.3 310.1,180.4 309.5,181.0 309.0,181.0 308.3,180.2 307.7,179.0 307.1,177.8 306.7,176.5 306.3,175.3 306.0,174.2 305.7,173.0 305.5,171.9 305.2,170.8 305.0,169.7 304.8,168.5 304.5,167.4 304.3,166.2 304.0,165.1 303.7,163.9 303.4,162.7 303.1,161.5 302.8,160.3 302.5,159.1 302.2,158.0 301.9,156.8 301.5,155.6 301.2,154.4 300.9,153.2 300.6,152.0 300.2,150.8 299.9,149.7 299.6,148.5 299.2,147.3 298.9,146.2 298.6,145.0 298.2,143.8 297.9,142.7 297.6,141.5 297.2,140.4 296.9,139.2 296.6,138.1 296.2,136.9 295.8,135.8 295.4,134.7 294.9,133.6 294.3,132.5 293.6,131.4 292.8,130.4 291.9,129.4 291.0,128.6 289.9,128.2 288.8,128.1 287.6,128.5 286.5,129.2 285.5,130.0 284.5,131.0 283.7,131.9 283.0,132.6" fill="#0000ff" fill-opacity="0.2"/>
<polygon points="283.0,127.9 283.5,127.2 284.3,126.2 285.3,125.1 286.3,124.3 287.4,123.9 288.4,124.3 289.3,125.2 290.0,126.4 290.5,127.6 291.0,128.8 291.3,130.0 291.5,131.1 291.7,132.3 291.8,133.4 292.0,134.6 292.3,135.7 292.5,136.8 292.8,138.0 293.2,139.1 293.5,140.3 293.9,141.4 294.3,142.6 294.7,143.7 295.1,144.9 295.6,146.0 296.0,147.2 296.4,148.4 296.8,149.5 297.2,150.7 297.5,151.9 297.9,153.1 298.3,154.3 298.6,155.4 298.9,156.6 299.2,157.8 299.5,158.9 299.8,160.1 300.1,161.2 300.4,162.4 300.7,163.5 301.0,164.6 301.2,165.7 301.5,166.8 301.8,167.9 302.1,169.0 302.5,170.1 302.9,171.3 303.4,172.4 303.9,173.6 304.6,174.8 305.4,176.0 306.2,177.2 307.1,178.2 308.0,179.0 308.8,179.4 309.6,179.3 310.2,178.7 310.7,177.7 311.1,176.4 311.5,174.9 311.8,173.3 312.1,171.6 312.5,170.0 312.8,168.5 313.2,167.2 313.7,166.2 314.4,165.6 315.1,165.4 316.1,165.7 317.1,166.5 318.1,167.4 319.0,168.4 319.8,169.4 320.5,170.4 321.1,171.3 321.7,172.3 322.4,173.4 323.0,174.4 323.8,175.6 324.6,176.7 325.5,177.6 326.4,178.2 327.3,178.4 328.3,178.1 329.2,177.4 330.1,176.4 330.9,175.2 331.6,174.0 332.3,172.8 332.9,171.8 333.5,170.7 334.0,169.8 334.6,168.8 335.2,167.7 335.9,166.6 336.6,165.4 337.5,164.4 338.4,163.6 339.2,163.4 339.9,163.9 340.6,164.8 341.2,166.1 341.7,167.6 342.2,169.1 342.7,170.5 343.1,171.8 343.4,173.1 343.7,174.3 344.0,175.5 344.3,176.6 344.6,177.7 344.8,178.8 345.0,179.8 345.2,180.9 345.4,181.9 345.6,182.9 345.8,184.0 346.0,185.0 346.3,186.1 346.5,187.2 346.8,188.4 347.2,189.6 347.6,190.8 348.0,192.1 348.5,193.5 349.1,194.9 349.7,196.1 350.3,196.9 350.9,197.0 351.4,196.5 351.8,195.5 352.2,194.1 352.6,192.4 352.9,190.7 353.2,189.1 353.5,187.6 353.8,186.1 354.0,184.7 354.2,183.4 354.4,182.1 354.6,180.9 354.8,179.8 354.9,178.7 355.1,177.6 355.2,176.6 355.4,175.5 355.5,174.5 355.6,173.5 355.7,172.5 355.9,171.4 356.0,170.4 356.1,169.3 356.3,168.2 356.4,167.0 356.6,165.9 356.8,164.7 356.9,163.6 357.1,162.4 357.3,161.1 357.5,159.9 357.7,158.7 357.8,157.5 358.0,156.2 358.2,155.0 358.4,153.8 358.6,152.5 358.8,151.3 359.1,150.1 359.3,148.9 359.5,147.6 359.7,146.4 359.9,145.2 360.1,144.1 360.4,142.9 360.6,141.7 360.9,140.5 361.1,139.3 361.4,138.2 361.6,137.0 361.9,135.9 362.2,134.7 362.5,133.5 362.8,132.4 363.1,131.2 363.4,130.1 363.7,128.9 364.1,127.8 364.5,126.6 364.9,125.5 365.3,124.3 365.7,123.2 366.1,122.0 366.6,120.9 367.2,119.8 367.8,118.8 368.5,117.8 369.4,116.9 370.4,116.1 371.5,115.6 372.7,115.3 373.7,115.5 374.7,116.1 375.6,117.1 376.4,118.2 377.1,119.3 377.7,120.3 378.3,121.3 378.9,122.4 379.5,123.4 380.0,124.4 380.5,125.4 381.0,126.5 381.6,127.6 382.1,128.8 382.1,132.0 381.6,130.8 381.0,129.7 380.5,128.6 380.0,127.6 379.5,126.6 378.9,125.6 378.3,124.5 377.7,123.5 377.1,122.5 376.4,121.4 375.6,120.3 374.7,119.3 373.7,118.7 372.7,118.5 371.5,118.8 370.4,119.3 369.4,120.1 368.5,121.0 367.8,122.0 367.2,123.0 366.6,124.1 366.1,125.2 365.7,126.4 365.3,127.5 364.9,128.7 364.5,129.8 364.1,131.0 363.7,132.1 363.4,133.3 363.1,134.4 362.8,135.6 362.5,136.7 362.2,137.9 361.9,139.1 361.6,140.2 361.4,141.4 361.1,142.5 360.9,143.7 360.6,144.9 360.4,146.1 360.1,147.3 359.9,148.4 359.7,149.6 359.5,150.8 359.3,152.1 359.1,153.3 358.8,154.5 358.6,155.7 358.4,157.0 358.2,158.2 358.0,159.4 357.8,160.7 357.7,161.9 357.5,163.1 357.3,164.3 357.1,165.6 356.9,166.8 356.8,167.9 356.6,169.1 356.4,170.2 356.3,171.4 356.1,172.5 356.0,173.6 355.9,174.6 355.7,175.7 355.6,176.7 355.5,177.7 355.4,178.7 355.2,179.8 355.1,180.8 354.9,181.9 354.8,183.0 354.6,184.1 354.4,185.3 354.2,186.6 354.0,187.9 353.8,189.3 353.5,190.8 353.2,192.3 352.9,193.9 352.6,195.6 352.2,197.3 351.8,198.7 351.4,199.7 350.9,200.2 350.3,200.1 349.7,199.3 349.1,198.1 348.5,196.7 348.0,195.3 347.6,194.0 347.2,192.8 346.8,191.6 346.5,190.4 346.3,189.3 346.0,188.2 345.8,187.2 345.6,186.1 345.4,185.1 345.2,184.1 345.0,183.0 344.8,182.0 344.6,180.9 344.3,179.8 344.0,178.7 343.7,177.5 343.4,176.3 343.1,175.0 342.7,173.7 342.2,172.3 341.7,170.8 341.2,169.3 340.6,168.0 339.9,167.1 339.2,166.6 338.4,166.8 337.5,167.6 336.6,168.6 335.9,169.8 335.2,170.9 334.6,172.0 334.0,173.0 333.5,173.9 332.9,175.0 332.3,176.0 331.6,177.2 330.9,178.4 330.1,179.6 329.2,180.6 328.3,181.3 327.3,181.6 326.4,181.4 325.5,180.8 324.6,179.9 323.8,178.8 323.0,177.6 322.4,176.6 321.7,175.5 321.1,174.5 320.5,173.6 319.8,172.6 319.0,171.6 318.1,170.6 317.1,169.7 316.1,168.9 315.1,168.6 314.4,168.8 313.7,169.4 313.2,170.4 312.8,171.7 312.5,173.2 312.1,174.8 311.8,176.5 311.5,178.1 311.1,179.6 310.7,180.9 310.2,181.9 309.6,182.5 308.8,182.6 308.0,182.2 307.1,181.4 306.2,180.4 305.4,179.2 304.6,178.0 303.9,176.8 303.4,175.6 302.9,174.5 302.5,173.3 302.1,172.2 301.8,171.1 301.5,170.0 301.2,168.9 301.0,167.8 300.7,166.7 300.4,165.6 300.1,164.4 299.8,163.3 299.5,162.1 299.2,161.0 298.9,159.8 298.6,158.6 298.3,157.5 297.9,156.3 297.5,155.1 297.2,153.9 296.8,152.7 296.4,151.6 296.0,150.4 295.6,149.2 295.1,148.1 294.7,146.9 294.3,145.8 293.9,144.6 293.5,143.5 293.2,142.3 292.8,141.2 292.5,140.0 292.3,138.9 292.0,137.8 291.8,136.6 291.7,135.5 291.5,134.3 291.3,133.2 291.0,132.0 290.5,130.8 290.0,129.6 289.3,128.4 288.4,127.5 287.4,127.1 286.3,127.5 285.3,128.3 284.3,129.4 283.5,130.4 283.0,131.1" fill="#ffa500" fill-opacity="0.2"/>
<polyline points="272.6,147.0 273.0,145.9 273.4,144.8 273.9,143.6 274.3,142.5 274.8,141.4 275.2,140.3 275.7,139.1 276.2,138.0 276.7,136.9 277.3,135.8 277.9,134.8 278.5,133.7 279.1,132.7 279.8,131.7 280.5,130.8 281.3,129.9 282.2,129.0 283.1,128.2 284.1,127.4 285.2,126.8 286.4,126.4 287.5,126.3 288.6,126.7 289.7,127.4 290.6,128.3 291.3,129.3 291.9,130.3 292.5,131.4 292.9,132.5 293.3,133.7 293.7,134.8 294.1,136.0 294.5,137.1 294.8,138.3 295.2,139.4 295.6,140.5 295.9,141.7 296.3,142.8 296.6,144.0 297.0,145.2 297.3,146.3 297.7,147.5 298.0,148.7 298.3,149.9 298.6,151.1 298.9,152.3 299.2,153.5 299.5,154.7 299.8,156.0 300.1,157.2 300.3,158.4 300.6,159.6 300.8,160.8 301.1,162.0 301.3,163.2 301.6,164.3 301.8,165.5 302.0,166.6 302.2,167.7 302.5,168.8 302.7,169.8 302.9,170.9 303.1,171.9 303.3,172.9 303.5,173.9 303.7,175.0 303.9,176.1 304.1,177.2 304.3,178.3 304.5,179.5 304.7,180.7 305.0,182.0 305.2,183.4 305.4,184.9 305.7,186.4 306.0,188.1 306.3,189.7 306.6,191.4 306.9,192.8 307.2,194.0 307.5,194.8 307.8,195.2 308.1,195.0 308.4,194.3 308.7,193.2 309.0,191.9 309.3,190.3 309.6,188.8 309.8,187.3 310.1,185.9 310.3,184.6 310.5,183.5 310.7,182.3 310.8,181.3 311.0,180.2 311.1,179.2 311.2,178.1 311.3,177.0 311.4,175.8 311.5,174.6 311.5,173.2 311.5,171.7 311.5,170.1 311.5,168.4 311.5,166.8 311.6,165.1 311.7,163.6 311.9,162.3 312.3,161.3 312.7,160.6 313.3,160.3 314.1,160.4 315.0,161.0 315.9,161.8 316.9,162.8 317.7,163.9 318.5,164.9 319.1,165.9 319.8,166.9 320.5,167.8 321.2,168.7 321.9,169.6 322.8,170.4 323.7,171.2 324.7,172.0 325.8,172.6 326.9,173.2 328.1,173.7 329.2,173.8 330.3,173.6 331.4,173.1 332.5,172.4 333.4,171.5 334.4,170.6 335.2,169.7 336.0,168.8 336.8,167.8 337.4,166.9 338.1,165.9 338.7,164.9 339.2,163.9 339.9,162.9 340.7,161.9 341.6,160.9 342.6,160.1 343.4,160.0 344.0,160.6 344.4,161.8 344.7,163.3 344.9,164.9 345.1,166.6 345.3,168.2 345.5,169.6 345.7,171.0 345.9,172.3 346.1,173.5 346.3,174.7 346.5,175.8 346.7,176.9 346.9,177.9 347.1,178.9 347.3,179.9 347.4,180.9 347.5,182.0 347.6,183.0 347.7,184.1 347.7,185.2 347.8,186.3 347.9,187.4 348.0,188.6 348.2,189.8 348.4,191.0 348.7,192.3 349.1,193.6 349.6,194.9 350.1,196.3 350.8,197.6 351.4,198.6 352.1,199.0 352.6,198.7 353.0,197.7 353.4,196.3 353.7,194.7 354.0,193.0 354.3,191.3 354.5,189.8 354.7,188.3 354.9,186.8 355.1,185.5 355.3,184.2 355.5,183.0 355.6,181.8 355.8,180.6 355.9,179.5 356.0,178.5 356.1,177.4 356.3,176.4 356.4,175.3 356.5,174.3 356.6,173.3 356.7,172.3 356.8,171.2 357.0,170.2 357.1,169.1 357.3,168.0 357.4,166.9 357.6,165.7 357.7,164.5 357.9,163.4 358.1,162.2 358.2,160.9 358.4,159.7 358.6,158.5 358.8,157.3 359.0,156.0 359.2,154.8 359.4,153.6 359.6,152.3 359.8,151.1 360.0,149.9 360.2,148.7 360.5,147.5 360.7,146.3 360.9,145.1 361.2,143.9 361.4,142.8 361.7,141.6 362.0,140.4 362.3,139.3 362.7,138.1 363.0,136.9 363.4,135.8 363.9,134.6 364.4,133.5 364.9,132.4 365.6,131.5 366.4,130.6 367.3,129.8 368.4,129.1 369.5,128.6 370.7,128.3 371.9,128.2 373.1,128.4 374.2,128.9 375.1,129.6 376.0,130.5 376.8,131.5 377.6,132.5 378.2,133.5 378.8,134.5 379.4,135.6 379.9,136.7 380.3,137.8 380.8,138.9 381.2,140.1 381.6,141.2 382.0,142.3 382.4,143.5 382.8,144.6 383.2,145.8 383.6,146.9" fill="none" stroke="#000000" stroke-width="0.75" stroke-linejoin="round" stroke-linecap="round"/>
<polyline points="272.6,147.0 273.0,145.9 273.5,144.8 273.9,143.7 274.4,142.5 274.8,141.4 275.3,140.3 275.8,139.2 276.3,138.1 276.8,137.0 277.4,135.9 278.0,134.8 278.6,133.8 279.2,132.8 279.9,131.8 280.7,130.8 281.5,129.9 282.3,129.1 283.3,128.3 284.3,127.6 285.4,127.1 286.6,126.7 287.8,126.6 289.0,126.8 290.1,127.2 291.2,127.8 292.1,128.6 292.9,129.5 293.6,130.5 294.2,131.5 294.7,132.7 295.1,133.9 295.5,135.0 295.9,136.2 296.3,137.4 296.6,138.5 297.0,139.7 297.3,140.9 297.7,142.0 298.0,143.2 298.3,144.3 298.6,145.5 298.9,146.6 299.2,147.8 299.5,149.0 299.8,150.2 300.1,151.4 300.3,152.6 300.6,153.8 300.9,155.0 301.1,156.3 301.4,157.5 301.6,158.7 301.9,159.9 302.1,161.1 302.4,162.3 302.6,163.5 302.8,164.6 303.0,165.7 303.3,166.8 303.5,167.9 303.7,169.0 303.9,170.0 304.1,171.0 304.4,172.1 304.6,173.2 304.9,174.3 305.1,175.5 305.5,176.7 305.8,178.1 306.2,179.6 306.6,181.1 307.1,182.6 307.6,183.7 308.1,184.0 308.6,183.4 309.1,182.3 309.6,180.8 310.0,179.3 310.3,178.0 310.6,176.8 310.9,175.7 311.1,174.7 311.3,173.6 311.5,172.5 311.8,171.3 312.0,170.0 312.3,168.5 312.6,167.0 313.0,165.7 313.6,164.6 314.2,164.1 315.0,164.1 316.0,164.7 316.9,165.7 317.8,166.8 318.6,167.9 319.3,168.9 319.9,169.9 320.5,170.9 321.0,171.9 321.5,173.0 322.1,174.2 322.7,175.4 323.4,176.7 324.1,177.9 324.9,178.9 325.8,179.6 326.7,180.0 327.7,179.9 328.6,179.4 329.6,178.7 330.6,177.7 331.5,176.7 332.3,175.6 333.0,174.6 333.7,173.7 334.3,172.8 334.9,171.8 335.5,170.8 336.1,169.7 336.7,168.5 337.4,167.2 338.1,165.9 338.9,164.6 339.7,163.6 340.5,163.1 341.2,163.1 341.9,163.7 342.6,164.8 343.2,166.1 343.7,167.5 344.1,168.8 344.5,170.1 344.8,171.4 345.1,172.5 345.3,173.7 345.5,174.8 345.7,175.9 345.9,177.0 346.0,178.0 346.1,179.1 346.3,180.1 346.4,181.2 346.6,182.3 346.8,183.4 347.0,184.5 347.2,185.7 347.5,186.9 347.8,188.1 348.2,189.4 348.6,190.8 349.1,192.3 349.6,193.7 350.2,195.0 350.7,195.8 351.2,196.0 351.7,195.5 352.2,194.4 352.6,193.0 352.9,191.3 353.3,189.7 353.6,188.1 353.9,186.6 354.1,185.2 354.4,183.9 354.6,182.7 354.8,181.5 355.0,180.3 355.2,179.2 355.4,178.1 355.6,177.1 355.7,176.1 355.9,175.0 356.1,174.0 356.2,173.0 356.4,171.9 356.6,170.9 356.8,169.8 356.9,168.6 357.1,167.5 357.3,166.3 357.5,165.1 357.7,163.9 357.9,162.7 358.1,161.5 358.3,160.3 358.5,159.1 358.7,157.8 358.9,156.6 359.2,155.4 359.4,154.1 359.6,152.9 359.9,151.7 360.1,150.5 360.3,149.3 360.6,148.1 360.8,146.9 361.1,145.7 361.4,144.6 361.7,143.4 362.0,142.2 362.3,141.1 362.6,139.9 362.9,138.8 363.3,137.6 363.6,136.4 364.1,135.3 364.5,134.1 365.1,133.0 365.7,132.0 366.4,131.1 367.3,130.2 368.2,129.5 369.3,128.9 370.5,128.5 371.7,128.4 372.9,128.5 374.0,129.0 375.0,129.7 375.9,130.6 376.7,131.5 377.4,132.5 378.1,133.5 378.7,134.6 379.3,135.6 379.8,136.7 380.3,137.8 380.7,138.9 381.1,140.1 381.5,141.2 381.9,142.4 382.3,143.5 382.7,144.6 383.2,145.8 383.6,146.9" fill="none" stroke="#0000ff" stroke-width="0.75" stroke-linejoin="round" stroke-linecap="round"/>
<polyline points="272.6,147.0 273.0,145.9 273.4,144.8 273.8,143.7 274.2,142.5 274.7,141.4 275.1,140.2 275.6,139.1 276.0,138.0 276.5,136.8 277.0,135.7 277.6,134.7 278.2,133.6 278.8,132.6 279.5,131.6 280.2,130.7 281.0,129.8 281.9,128.9 282.8,128.1 283.8,127.4 284.9,126.7 286.0,126.4 287.2,126.6 288.3,127.2 289.2,128.1 289.9,129.1 290.5,130.2 290.9,131.3 291.2,132.5 291.4,133.7 291.7,134.9 292.0,136.0 292.2,137.2 292.6,138.4 292.9,139.5 293.2,140.7 293.6,141.8 294.0,143.0 294.3,144.1 294.7,145.3 295.1,146.4 295.5,147.6 295.8,148.7 296.2,149.9 296.5,151.1 296.8,152.3 297.2,153.5 297.5,154.7 297.8,155.9 298.1,157.2 298.4,158.4 298.6,159.6 298.9,160.8 299.2,162.0 299.5,163.1 299.7,164.3 300.0,165.5 300.2,166.6 300.5,167.7 300.7,168.8 301.0,169.9 301.2,170.9 301.5,171.9 301.7,172.9 301.9,173.9 302.2,175.0 302.4,176.0 302.7,177.1 302.9,178.1 303.2,179.3 303.4,180.5 303.7,181.7 304.0,183.0 304.2,184.5 304.5,185.9 304.8,187.5 305.1,189.2 305.4,190.9 305.7,192.5 306.0,193.9 306.3,195.1 306.6,195.9 307.0,196.2 307.3,196.0 307.6,195.3 307.9,194.2 308.3,192.8 308.6,191.3 308.8,189.8 309.1,188.4 309.4,187.1 309.6,185.9 309.8,184.8 310.0,183.7 310.2,182.6 310.3,181.6 310.5,180.5 310.6,179.3 310.8,178.1 310.9,176.7 311.1,175.3 311.2,173.7 311.4,172.1 311.7,170.7 312.1,169.4 312.6,168.5 313.3,168.0 314.1,168.0 315.2,168.4 316.2,169.3 317.2,170.2 318.0,171.1 318.7,172.1 319.4,173.1 320.0,174.1 320.5,175.1 321.1,176.3 321.8,177.4 322.5,178.6 323.4,179.6 324.2,180.4 325.2,180.9 326.3,181.0 327.4,180.7 328.5,180.1 329.6,179.3 330.6,178.5 331.4,177.7 332.2,176.8 332.8,175.9 333.5,174.9 334.1,173.8 334.7,172.7 335.3,171.4 336.0,170.0 336.7,168.6 337.4,167.4 338.1,166.4 338.9,165.7 339.7,165.5 340.6,165.8 341.4,166.5 342.2,167.6 342.9,168.8 343.5,170.1 344.0,171.3 344.5,172.5 344.8,173.8 345.1,175.0 345.3,176.1 345.5,177.3 345.6,178.4 345.8,179.6 345.9,180.7 346.0,181.8 346.1,182.9 346.2,183.9 346.4,185.0 346.6,186.1 346.8,187.2 347.0,188.3 347.3,189.4 347.6,190.6 348.0,191.8 348.4,193.1 348.9,194.4 349.4,195.8 350.0,197.2 350.6,198.6 351.2,199.8 351.9,200.7 352.4,201.0 352.9,200.7 353.3,200.0 353.7,198.8 354.0,197.3 354.3,195.7 354.6,194.1 354.8,192.5 355.0,190.9 355.3,189.5 355.4,188.1 355.6,186.8 355.8,185.5 355.9,184.3 356.1,183.1 356.2,182.0 356.3,180.9 356.5,179.8 356.6,178.7 356.7,177.7 356.8,176.6 356.9,175.6 357.0,174.6 357.1,173.5 357.3,172.4 357.4,171.4 357.5,170.2 357.6,169.1 357.8,168.0 357.9,166.8 358.1,165.6 358.2,164.4 358.4,163.2 358.5,162.0 358.7,160.8 358.9,159.6 359.1,158.3 359.2,157.1 359.4,155.9 359.6,154.6 359.9,153.4 360.1,152.2 360.3,151.0 360.5,149.8 360.8,148.6 361.0,147.4 361.3,146.3 361.5,145.1 361.8,143.9 362.1,142.8 362.4,141.6 362.7,140.4 363.0,139.3 363.4,138.1 363.7,136.9 364.1,135.7 364.5,134.6 365.0,133.5 365.6,132.4 366.3,131.5 367.2,130.6 368.1,129.8 369.2,129.2 370.3,128.8 371.6,128.6 372.8,128.7 373.8,129.1 374.8,129.8 375.7,130.7 376.5,131.6 377.3,132.6 378.0,133.6 378.6,134.7 379.1,135.7 379.7,136.8 380.2,137.9 380.6,139.0 381.1,140.1 381.5,141.2 381.9,142.3 382.3,143.5 382.7,144.6 383.2,145.8 383.6,146.9" fill="none" stroke="#ffa500" stroke-width="0.85" stroke-linejoin="round" stroke-linecap="round"/>
<polyline points="283.0,130.0 283.7,129.1 284.7,128.3 285.7,127.6 286.9,127.2 288.1,126.9 289.3,127.1 290.4,127.5 291.4,128.3 292.3,129.1 293.0,130.1 293.5,131.2 294.0,132.3 294.4,133.5 294.7,134.7 295.1,135.9 295.4,137.1 295.8,138.3 296.1,139.4 296.5,140.6 296.9,141.7 297.3,142.8 297.7,144.0 298.1,145.1 298.5,146.3 298.9,147.4 299.3,148.5 299.6,149.7 300.0,150.9 300.4,152.0 300.7,153.2 301.1,154.4 301.4,155.6 301.7,156.8 302.1,157.9 302.4,159.1 302.8,160.2 303.2,161.4 303.5,162.5 303.9,163.6 304.3,164.6 304.7,165.7 305.2,166.8 305.7,167.8 306.4,169.0 307.1,170.1 307.9,171.3 308.7,172.0 309.5,172.0 310.1,171.3 310.6,170.1 311.1,168.6 311.5,166.9 312.0,165.3 312.5,163.8 313.0,162.6 313.7,161.8 314.4,161.4 315.3,161.6 316.3,162.2 317.3,163.2 318.2,164.2 319.1,165.3 319.9,166.3 320.6,167.3 321.3,168.2 322.1,169.1 322.9,169.9 323.7,170.7 324.6,171.4 325.7,172.1 326.8,172.6 328.0,172.9 329.3,173.0 330.5,172.8 331.7,172.4 332.9,171.9 334.0,171.5 335.0,171.4 335.9,171.7 336.7,172.3 337.5,173.2 338.1,174.3 338.7,175.6 339.3,177.0 339.8,178.4 340.3,179.9 340.7,181.2 341.1,182.5 341.5,183.8 341.9,185.0 342.2,186.2 342.6,187.3 342.9,188.4 343.2,189.4 343.5,190.5 343.9,191.5 344.2,192.5 344.5,193.6 344.8,194.6 345.1,195.7 345.5,196.8 345.9,198.0 346.3,199.2 346.8,200.6 347.4,202.0 348.0,203.4 348.6,204.6 349.3,205.3 349.9,205.3 350.4,204.8 350.9,203.7 351.4,202.2 351.8,200.7 352.2,199.1 352.6,197.6 352.9,196.1 353.1,194.8 353.4,193.5 353.6,192.2 353.8,191.0 353.9,189.8 354.1,188.7 354.2,187.6 354.3,186.5 354.5,185.4 354.6,184.4 354.7,183.3 354.8,182.3 354.9,181.2 355.0,180.1 355.1,179.0 355.2,177.9 355.4,176.8 355.5,175.6 355.7,174.4 355.9,173.2 356.0,172.0 356.2,170.8 356.4,169.6 356.6,168.4 356.8,167.1 357.0,165.9 357.2,164.7 357.4,163.4 357.6,162.2 357.8,161.0 358.0,159.8 358.3,158.6 358.5,157.4 358.7,156.2 359.0,155.0 359.2,153.8 359.4,152.6 359.7,151.4 359.9,150.2 360.2,149.1 360.5,147.9 360.8,146.7 361.0,145.5 361.4,144.4 361.7,143.2 362.0,142.0 362.3,140.9 362.7,139.7 363.0,138.6 363.4,137.4 363.8,136.2 364.2,135.1 364.7,134.0 365.1,132.9 365.6,131.8 366.2,130.7 366.7,129.6 367.3,128.6 368.0,127.6 368.8,126.7 369.8,125.8 370.8,125.1 372.0,124.7 373.1,124.8 374.2,125.3 375.3,126.0 376.3,126.7 377.4,127.4 378.4,128.1 379.3,128.7 380.3,129.4 381.2,130.2 382.1,131.1" fill="none" stroke="#000000" stroke-width="1.15" stroke-linejoin="round" stroke-linecap="round" stroke-dasharray="3.2 0.9"/>
<polyline points="283.0,131.0 283.7,130.3 284.5,129.4 285.5,128.4 286.5,127.6 287.6,126.9 288.8,126.5 289.9,126.6 291.0,127.0 291.9,127.8 292.8,128.8 293.6,129.8 294.3,130.9 294.9,132.0 295.4,133.1 295.8,134.2 296.2,135.3 296.6,136.5 296.9,137.6 297.2,138.8 297.6,139.9 297.9,141.1 298.2,142.2 298.6,143.4 298.9,144.6 299.2,145.7 299.6,146.9 299.9,148.1 300.2,149.2 300.6,150.4 300.9,151.6 301.2,152.8 301.5,154.0 301.9,155.2 302.2,156.4 302.5,157.5 302.8,158.7 303.1,159.9 303.4,161.1 303.7,162.3 304.0,163.5 304.3,164.6 304.5,165.8 304.8,166.9 305.0,168.1 305.2,169.2 305.5,170.3 305.7,171.4 306.0,172.6 306.3,173.7 306.7,174.9 307.1,176.2 307.7,177.4 308.3,178.6 309.0,179.4 309.5,179.4 310.1,178.8 310.5,177.7 311.0,176.2 311.4,174.6 311.8,172.8 312.2,171.0 312.7,169.3 313.2,167.9 313.7,166.8 314.3,166.0 315.1,165.7 315.9,165.9 316.8,166.6 317.8,167.5 318.7,168.6 319.5,169.6 320.2,170.6 320.9,171.6 321.5,172.6 322.2,173.6 322.8,174.6 323.4,175.8 324.2,177.0 324.9,178.1 325.8,178.9 326.7,179.3 327.7,179.2 328.7,178.7 329.7,177.9 330.8,176.8 331.7,175.6 332.6,174.4 333.4,173.2 334.3,172.3 335.1,171.6 335.9,171.4 336.7,171.6 337.5,172.3 338.4,173.3 339.1,174.5 339.9,175.8 340.5,177.0 341.1,178.2 341.6,179.4 342.1,180.5 342.5,181.6 342.9,182.7 343.3,183.8 343.6,184.9 344.0,185.9 344.3,187.0 344.7,188.1 345.1,189.2 345.5,190.3 346.1,191.4 346.7,192.6 347.5,193.8 348.4,194.8 349.2,195.6 350.0,195.7 350.7,195.2 351.2,194.3 351.6,192.9 352.0,191.4 352.4,189.8 352.7,188.2 352.9,186.6 353.2,185.2 353.5,183.9 353.7,182.6 353.9,181.4 354.1,180.2 354.3,179.1 354.5,178.0 354.7,177.0 354.9,175.9 355.1,174.9 355.2,173.8 355.4,172.8 355.5,171.7 355.7,170.6 355.9,169.5 356.0,168.3 356.2,167.2 356.4,166.0 356.6,164.8 356.8,163.6 356.9,162.4 357.1,161.1 357.4,159.9 357.6,158.7 357.8,157.4 358.0,156.2 358.3,154.9 358.6,153.7 358.8,152.5 359.1,151.3 359.4,150.1 359.7,148.9 360.1,147.7 360.4,146.5 360.7,145.3 361.1,144.2 361.4,143.0 361.7,141.9 362.1,140.7 362.4,139.6 362.7,138.5 363.1,137.4 363.4,136.3 363.7,135.2 364.1,134.1 364.4,133.0 364.8,131.9 365.2,130.8 365.7,129.6 366.2,128.4 366.7,127.2 367.3,125.9 367.9,124.6 368.6,123.4 369.4,122.4 370.3,121.7 371.3,121.4 372.4,121.5 373.5,122.0 374.6,122.7 375.6,123.5 376.5,124.4 377.3,125.2 378.1,126.1 378.9,127.0 379.6,127.9 380.5,128.8 381.4,129.7" fill="none" stroke="#0000ff" stroke-width="1.15" stroke-linejoin="round" stroke-linecap="round" stroke-dasharray="3.2 0.9"/>
<polyline points="283.0,129.5 283.5,128.8 284.3,127.8 285.3,126.7 286.3,125.9 287.4,125.5 288.4,125.9 289.3,126.8 290.0,128.0 290.5,129.2 291.0,130.4 291.3,131.6 291.5,132.7 291.7,133.9 291.8,135.0 292.0,136.2 292.3,137.3 292.5,138.4 292.8,139.6 293.2,140.7 293.5,141.9 293.9,143.0 294.3,144.2 294.7,145.3 295.1,146.5 295.6,147.6 296.0,148.8 296.4,150.0 296.8,151.1 297.2,152.3 297.5,153.5 297.9,154.7 298.3,155.9 298.6,157.0 298.9,158.2 299.2,159.4 299.5,160.5 299.8,161.7 300.1,162.8 300.4,164.0 300.7,165.1 301.0,166.2 301.2,167.3 301.5,168.4 301.8,169.5 302.1,170.6 302.5,171.7 302.9,172.9 303.4,174.0 303.9,175.2 304.6,176.4 305.4,177.6 306.2,178.8 307.1,179.8 308.0,180.6 308.8,181.0 309.6,180.9 310.2,180.3 310.7,179.3 311.1,178.0 311.5,176.5 311.8,174.9 312.1,173.2 312.5,171.6 312.8,170.1 313.2,168.8 313.7,167.8 314.4,167.2 315.1,167.0 316.1,167.3 317.1,168.1 318.1,169.0 319.0,170.0 319.8,171.0 320.5,172.0 321.1,172.9 321.7,173.9 322.4,175.0 323.0,176.0 323.8,177.2 324.6,178.3 325.5,179.2 326.4,179.8 327.3,180.0 328.3,179.7 329.2,179.0 330.1,178.0 330.9,176.8 331.6,175.6 332.3,174.4 332.9,173.4 333.5,172.3 334.0,171.4 334.6,170.4 335.2,169.3 335.9,168.2 336.6,167.0 337.5,166.0 338.4,165.2 339.2,165.0 339.9,165.5 340.6,166.4 341.2,167.7 341.7,169.2 342.2,170.7 342.7,172.1 343.1,173.4 343.4,174.7 343.7,175.9 344.0,177.1 344.3,178.2 344.6,179.3 344.8,180.4 345.0,181.4 345.2,182.5 345.4,183.5 345.6,184.5 345.8,185.6 346.0,186.6 346.3,187.7 346.5,188.8 346.8,190.0 347.2,191.2 347.6,192.4 348.0,193.7 348.5,195.1 349.1,196.5 349.7,197.7 350.3,198.5 350.9,198.6 351.4,198.1 351.8,197.1 352.2,195.7 352.6,194.0 352.9,192.3 353.2,190.7 353.5,189.2 353.8,187.7 354.0,186.3 354.2,185.0 354.4,183.7 354.6,182.5 354.8,181.4 354.9,180.3 355.1,179.2 355.2,178.2 355.4,177.1 355.5,176.1 355.6,175.1 355.7,174.1 355.9,173.0 356.0,172.0 356.1,170.9 356.3,169.8 356.4,168.6 356.6,167.5 356.8,166.3 356.9,165.2 357.1,164.0 357.3,162.7 357.5,161.5 357.7,160.3 357.8,159.1 358.0,157.8 358.2,156.6 358.4,155.4 358.6,154.1 358.8,152.9 359.1,151.7 359.3,150.5 359.5,149.2 359.7,148.0 359.9,146.8 360.1,145.7 360.4,144.5 360.6,143.3 360.9,142.1 361.1,140.9 361.4,139.8 361.6,138.6 361.9,137.5 362.2,136.3 362.5,135.1 362.8,134.0 363.1,132.8 363.4,131.7 363.7,130.5 364.1,129.4 364.5,128.2 364.9,127.1 365.3,125.9 365.7,124.8 366.1,123.6 366.6,122.5 367.2,121.4 367.8,120.4 368.5,119.4 369.4,118.5 370.4,117.7 371.5,117.2 372.7,116.9 373.7,117.1 374.7,117.7 375.6,118.7 376.4,119.8 377.1,120.9 377.7,121.9 378.3,122.9 378.9,124.0 379.5,125.0 380.0,126.0 380.5,127.0 381.0,128.1 381.6,129.2 382.1,130.4" fill="none" stroke="#ffa500" stroke-width="1.15" stroke-linejoin="round" stroke-linecap="round" stroke-dasharray="3.2 0.9"/>
<circle cx="283.4" cy="129.6" r="1.1" fill="#000"/><circle cx="284.6" cy="131.2" r="1.1" fill="#0000ff"/>
<path d="M308.3,225.7 L301.0,238.6 Q305.3,240.2 309.8,239.6 Z" fill="#cacaca"/>
<path d="M308.3,225.7 L309.8,239.6 Q313.3,239.6 315.6,238.6 Z" fill="#b4b4b4"/>
<path d="M328.8,225.7 L321.5,238.6 Q325.8,240.2 330.3,239.6 Z" fill="#cacaca"/>
<path d="M328.8,225.7 L330.3,239.6 Q333.8,239.6 336.1,238.6 Z" fill="#b4b4b4"/>
<path d="M349.2,225.7 L341.9,238.6 Q346.2,240.2 350.7,239.6 Z" fill="#cacaca"/>
<path d="M349.2,225.7 L350.7,239.6 Q354.2,239.6 356.5,238.6 Z" fill="#b4b4b4"/>
<text class="t" x="265.7" y="113.8" text-anchor="end">1</text>
<text class="t" x="265.7" y="132.3" text-anchor="end">0.5</text>
<text class="t" x="265.7" y="150.9" text-anchor="end">0</text>
<text class="t" x="265.7" y="169.4" text-anchor="end">−0.5</text>
<text class="t" x="265.7" y="187.9" text-anchor="end">−1</text>
<text class="t" x="265.7" y="206.5" text-anchor="end">−1.5</text>
<text class="t" x="265.7" y="225.0" text-anchor="end">−2</text>
<text class="t" x="273.5" y="235.4" text-anchor="middle">−10</text>
<text class="t" x="301.4" y="235.4" text-anchor="middle">−5</text>
<text class="t" x="329.4" y="235.4" text-anchor="middle">0</text>
<text class="t" x="357.3" y="235.4" text-anchor="middle">5</text>
<text class="t" x="385.3" y="235.4" text-anchor="middle">10</text>
<text class="t" x="328.8" y="248.9" text-anchor="middle"><tspan class="i">x</tspan> [mm]</text>
<text class="t" transform="translate(237.5,165.9) rotate(-90)" text-anchor="middle"><tspan class="i">U</tspan><tspan font-size="6.5" dy="1.6">y</tspan><tspan dy="-1.6"> [mm/s]</tspan></text>
<path d="M299.1,115.7H308.9" stroke="#000000" stroke-width="0.9"/><rect x="302.9" y="114.9" width="2.2" height="1.6" fill="#000000"/>
<text class="t" x="314.4" y="118.7">Exp. 5 s</text>
<path d="M299.1,124.9H308.9" stroke="#0000ff" stroke-width="0.9"/><rect x="302.9" y="124.1" width="2.2" height="1.6" fill="#0000ff"/>
<text class="t" x="314.4" y="127.9">Exp. 10 s</text>
<path d="M299.1,134.0H308.9" stroke="#ffa500" stroke-width="0.9"/><rect x="302.9" y="133.2" width="2.2" height="1.6" fill="#ffa500"/>
<text class="t" x="314.4" y="137.0">Exp. 25 s</text>
<path d="M298.9,198.8H308.9" stroke="#000000" stroke-width="0.8"/>
<text class="t" x="313.8" y="201.8">Sim. 5 s</text>
<path d="M298.9,208.0H308.9" stroke="#0000ff" stroke-width="0.8"/>
<text class="t" x="313.8" y="211.0">Sim. 10 s</text>
<path d="M298.9,217.1H308.9" stroke="#ffa500" stroke-width="0.8"/>
<text class="t" x="313.8" y="220.1">Sim. 25 s</text>
</svg></body></html>
